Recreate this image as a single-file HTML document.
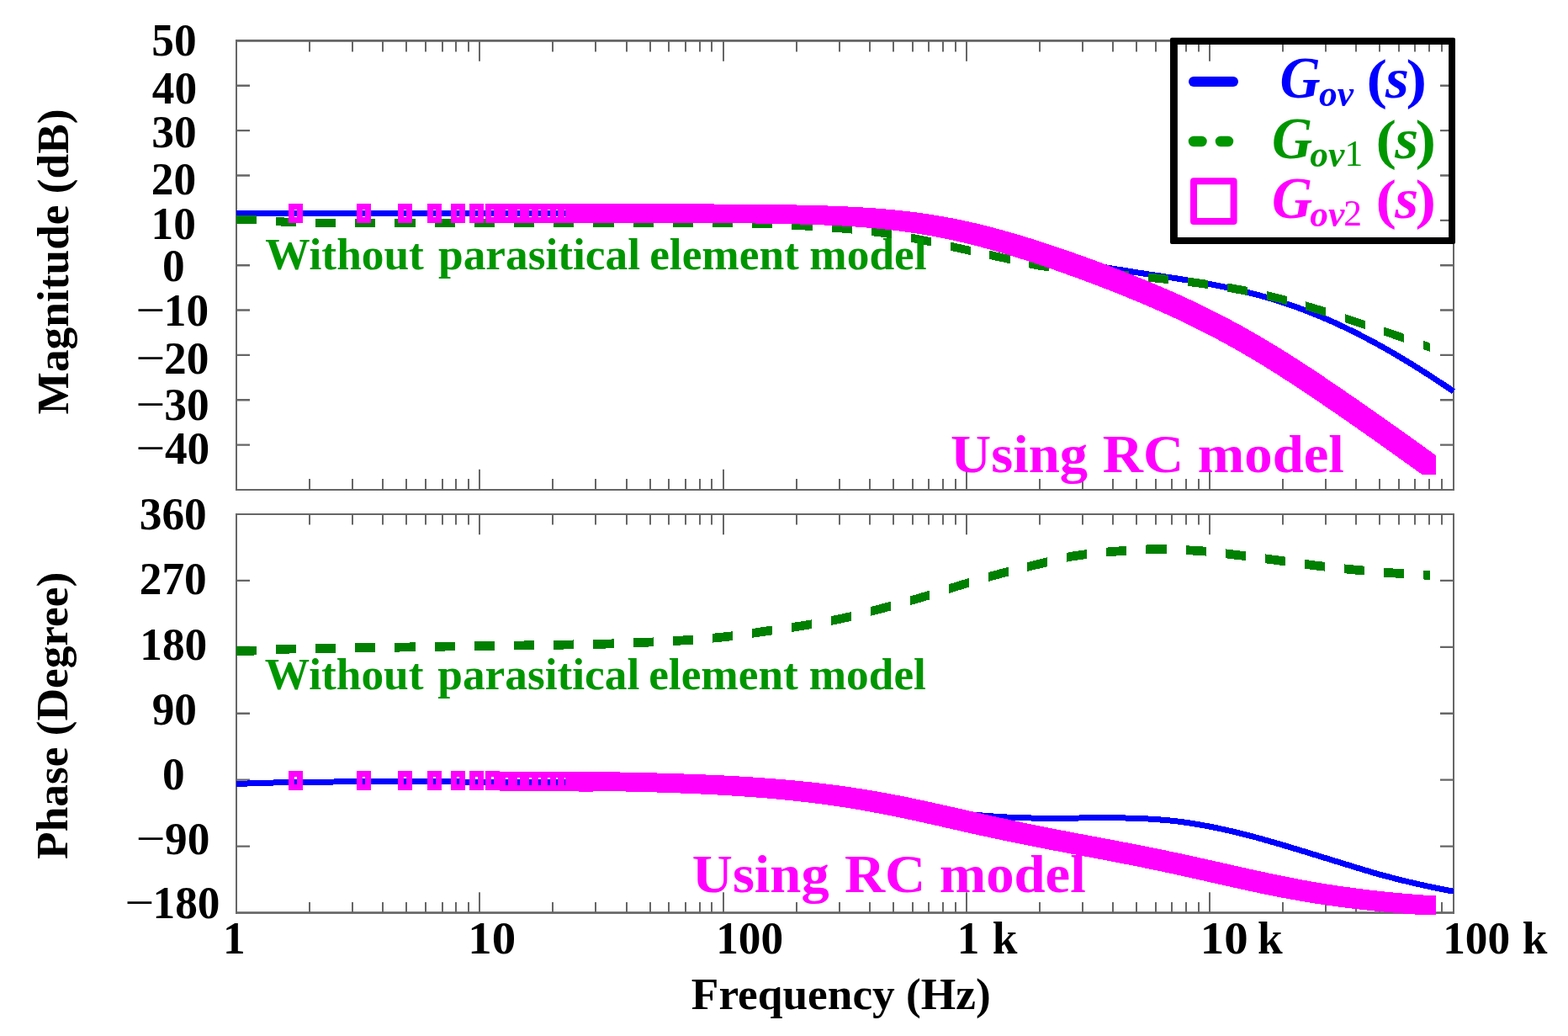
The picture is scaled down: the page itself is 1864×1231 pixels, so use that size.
<!DOCTYPE html>
<html lang="en"><head><meta charset="utf-8"><title>Bode plot</title>
<style>
html,body{margin:0;padding:0;background:#fff;}
body{width:1864px;height:1231px;overflow:hidden;}
svg{display:block;}
text{font-family:"Liberation Serif",serif;font-weight:bold;}
.r{font-weight:normal;}
.i{font-style:italic;}
</style></head><body>
<svg width="1864" height="1231" viewBox="0 0 1864 1231">
<rect width="1864" height="1231" fill="#fff"/>
<g fill="#666666">
<rect x="280" y="47" width="1449" height="2.8"/>
<rect x="280" y="581" width="1449" height="2"/>
<rect x="280" y="47" width="2" height="536"/>
<rect x="1727" y="47" width="2" height="536"/>
<path d="M367,48.4h2v13h-2zM367,582h2v-13h-2zM418,48.4h2v13h-2zM418,582h2v-13h-2zM454,48.4h2v13h-2zM454,582h2v-13h-2zM482,48.4h2v13h-2zM482,582h2v-13h-2zM505,48.4h2v13h-2zM505,582h2v-13h-2zM525,48.4h2v13h-2zM525,582h2v-13h-2zM541,48.4h2v13h-2zM541,582h2v-13h-2zM556,48.4h2v13h-2zM556,582h2v-13h-2zM569,48.4h2v24.3h-2zM569,582h2v-24.3h-2zM656,48.4h2v13h-2zM656,582h2v-13h-2zM707,48.4h2v13h-2zM707,582h2v-13h-2zM744,48.4h2v13h-2zM744,582h2v-13h-2zM772,48.4h2v13h-2zM772,582h2v-13h-2zM794,48.4h2v13h-2zM794,582h2v-13h-2zM814,48.4h2v13h-2zM814,582h2v-13h-2zM831,48.4h2v13h-2zM831,582h2v-13h-2zM845,48.4h2v13h-2zM845,582h2v-13h-2zM859,48.4h2v24.3h-2zM859,582h2v-24.3h-2zM946,48.4h2v13h-2zM946,582h2v-13h-2zM997,48.4h2v13h-2zM997,582h2v-13h-2zM1033,48.4h2v13h-2zM1033,582h2v-13h-2zM1061,48.4h2v13h-2zM1061,582h2v-13h-2zM1084,48.4h2v13h-2zM1084,582h2v-13h-2zM1103,48.4h2v13h-2zM1103,582h2v-13h-2zM1120,48.4h2v13h-2zM1120,582h2v-13h-2zM1135,48.4h2v13h-2zM1135,582h2v-13h-2zM1148,48.4h2v24.3h-2zM1148,582h2v-24.3h-2zM1235,48.4h2v13h-2zM1235,582h2v-13h-2zM1286,48.4h2v13h-2zM1286,582h2v-13h-2zM1322,48.4h2v13h-2zM1322,582h2v-13h-2zM1350,48.4h2v13h-2zM1350,582h2v-13h-2zM1373,48.4h2v13h-2zM1373,582h2v-13h-2zM1392,48.4h2v13h-2zM1392,582h2v-13h-2zM1409,48.4h2v13h-2zM1409,582h2v-13h-2zM1424,48.4h2v13h-2zM1424,582h2v-13h-2zM1437,48.4h2v24.3h-2zM1437,582h2v-24.3h-2zM1524,48.4h2v13h-2zM1524,582h2v-13h-2zM1575,48.4h2v13h-2zM1575,582h2v-13h-2zM1611,48.4h2v13h-2zM1611,582h2v-13h-2zM1639,48.4h2v13h-2zM1639,582h2v-13h-2zM1662,48.4h2v13h-2zM1662,582h2v-13h-2zM1681,48.4h2v13h-2zM1681,582h2v-13h-2zM1698,48.4h2v13h-2zM1698,582h2v-13h-2zM1713,48.4h2v13h-2zM1713,582h2v-13h-2zM281,100.56h16v2.4h-16zM1728,100.56h-16v2.4h16zM281,153.92h16v2.4h-16zM1728,153.92h-16v2.4h16zM281,207.28h16v2.4h-16zM1728,207.28h-16v2.4h16zM281,260.64h16v2.4h-16zM1728,260.64h-16v2.4h16zM281,314h16v2.4h-16zM1728,314h-16v2.4h16zM281,367.36h16v2.4h-16zM1728,367.36h-16v2.4h16zM281,420.72h16v2.4h-16zM1728,420.72h-16v2.4h16zM281,474.08h16v2.4h-16zM1728,474.08h-16v2.4h16zM281,527.44h16v2.4h-16zM1728,527.44h-16v2.4h16z"/>
</g>
<g fill="#666666">
<rect x="280" y="610" width="1449" height="2"/>
<rect x="280" y="1083.2" width="1449" height="2.7"/>
<rect x="280" y="610" width="2" height="475.9"/>
<rect x="1727" y="610" width="2" height="475.9"/>
<path d="M367,611h2v12.6h-2zM367,1084.5h2v-12.6h-2zM418,611h2v12.6h-2zM418,1084.5h2v-12.6h-2zM454,611h2v12.6h-2zM454,1084.5h2v-12.6h-2zM482,611h2v12.6h-2zM482,1084.5h2v-12.6h-2zM505,611h2v12.6h-2zM505,1084.5h2v-12.6h-2zM525,611h2v12.6h-2zM525,1084.5h2v-12.6h-2zM541,611h2v12.6h-2zM541,1084.5h2v-12.6h-2zM556,611h2v12.6h-2zM556,1084.5h2v-12.6h-2zM569,611h2v24.3h-2zM569,1084.5h2v-24.3h-2zM656,611h2v12.6h-2zM656,1084.5h2v-12.6h-2zM707,611h2v12.6h-2zM707,1084.5h2v-12.6h-2zM744,611h2v12.6h-2zM744,1084.5h2v-12.6h-2zM772,611h2v12.6h-2zM772,1084.5h2v-12.6h-2zM794,611h2v12.6h-2zM794,1084.5h2v-12.6h-2zM814,611h2v12.6h-2zM814,1084.5h2v-12.6h-2zM831,611h2v12.6h-2zM831,1084.5h2v-12.6h-2zM845,611h2v12.6h-2zM845,1084.5h2v-12.6h-2zM859,611h2v24.3h-2zM859,1084.5h2v-24.3h-2zM946,611h2v12.6h-2zM946,1084.5h2v-12.6h-2zM997,611h2v12.6h-2zM997,1084.5h2v-12.6h-2zM1033,611h2v12.6h-2zM1033,1084.5h2v-12.6h-2zM1061,611h2v12.6h-2zM1061,1084.5h2v-12.6h-2zM1084,611h2v12.6h-2zM1084,1084.5h2v-12.6h-2zM1103,611h2v12.6h-2zM1103,1084.5h2v-12.6h-2zM1120,611h2v12.6h-2zM1120,1084.5h2v-12.6h-2zM1135,611h2v12.6h-2zM1135,1084.5h2v-12.6h-2zM1148,611h2v24.3h-2zM1148,1084.5h2v-24.3h-2zM1235,611h2v12.6h-2zM1235,1084.5h2v-12.6h-2zM1286,611h2v12.6h-2zM1286,1084.5h2v-12.6h-2zM1322,611h2v12.6h-2zM1322,1084.5h2v-12.6h-2zM1350,611h2v12.6h-2zM1350,1084.5h2v-12.6h-2zM1373,611h2v12.6h-2zM1373,1084.5h2v-12.6h-2zM1392,611h2v12.6h-2zM1392,1084.5h2v-12.6h-2zM1409,611h2v12.6h-2zM1409,1084.5h2v-12.6h-2zM1424,611h2v12.6h-2zM1424,1084.5h2v-12.6h-2zM1437,611h2v24.3h-2zM1437,1084.5h2v-24.3h-2zM1524,611h2v12.6h-2zM1524,1084.5h2v-12.6h-2zM1575,611h2v12.6h-2zM1575,1084.5h2v-12.6h-2zM1611,611h2v12.6h-2zM1611,1084.5h2v-12.6h-2zM1639,611h2v12.6h-2zM1639,1084.5h2v-12.6h-2zM1662,611h2v12.6h-2zM1662,1084.5h2v-12.6h-2zM1681,611h2v12.6h-2zM1681,1084.5h2v-12.6h-2zM1698,611h2v12.6h-2zM1698,1084.5h2v-12.6h-2zM1713,611h2v12.6h-2zM1713,1084.5h2v-12.6h-2zM281,688.77h16v2.3h-16zM1728,688.77h-16v2.3h16zM281,767.68h16v2.3h-16zM1728,767.68h-16v2.3h16zM281,846.6h16v2.3h-16zM1728,846.6h-16v2.3h16zM281,925.52h16v2.3h-16zM1728,925.52h-16v2.3h16zM281,1004.43h16v2.3h-16zM1728,1004.43h-16v2.3h16z"/>
</g>
<polyline points="281,253.42 283,253.42 285,253.42 287,253.42 289,253.42 291,253.42 293,253.42 295,253.42 297,253.42 299,253.42 301,253.42 303,253.42 305,253.42 307,253.42 309,253.42 311,253.42 313,253.42 315,253.42 317,253.42 319,253.42 321,253.42 323,253.42 325,253.42 327,253.42 329,253.42 331,253.42 333,253.42 335,253.42 337,253.42 339,253.42 341,253.42 343,253.42 345,253.42 347,253.42 349,253.42 351,253.42 353,253.42 355,253.42 357,253.42 359,253.42 361,253.42 363,253.42 365,253.42 367,253.42 369,253.42 371,253.42 373,253.42 375,253.42 377,253.42 379,253.42 381,253.42 383,253.42 385,253.42 387,253.42 389,253.42 391,253.42 393,253.42 395,253.42 397,253.42 399,253.42 401,253.42 403,253.42 405,253.42 407,253.42 409,253.42 411,253.42 413,253.42 415,253.42 417,253.42 419,253.42 421,253.42 423,253.42 425,253.42 427,253.42 429,253.42 431,253.42 433,253.42 435,253.42 437,253.42 439,253.42 441,253.42 443,253.42 445,253.42 447,253.42 449,253.42 451,253.42 453,253.42 455,253.42 457,253.42 459,253.42 461,253.42 463,253.42 465,253.42 467,253.42 469,253.42 471,253.42 473,253.42 475,253.42 477,253.42 479,253.42 481,253.42 483,253.42 485,253.42 487,253.42 489,253.42 491,253.42 493,253.42 495,253.42 497,253.42 499,253.42 501,253.42 503,253.42 505,253.42 507,253.42 509,253.42 511,253.42 513,253.42 515,253.42 517,253.42 519,253.42 521,253.42 523,253.42 525,253.42 527,253.42 529,253.42 531,253.42 533,253.42 535,253.42 537,253.42 539,253.42 541,253.42 543,253.42 545,253.42 547,253.42 549,253.43 551,253.43 553,253.43 555,253.43 557,253.43 559,253.43 561,253.43 563,253.43 565,253.43 567,253.43 569,253.43 571,253.43 573,253.43 575,253.43 577,253.43 579,253.43 581,253.43 583,253.43 585,253.43 587,253.43 589,253.43 591,253.43 593,253.43 595,253.43 597,253.43 599,253.43 601,253.43 603,253.43 605,253.43 607,253.43 609,253.43 611,253.43 613,253.43 615,253.43 617,253.43 619,253.43 621,253.43 623,253.43 625,253.43 627,253.43 629,253.44 631,253.44 633,253.44 635,253.44 637,253.44 639,253.44 641,253.44 643,253.44 645,253.44 647,253.44 649,253.44 651,253.44 653,253.44 655,253.44 657,253.44 659,253.44 661,253.45 663,253.45 665,253.45 667,253.45 669,253.45 671,253.45 673,253.45 675,253.45 677,253.45 679,253.45 681,253.45 683,253.46 685,253.46 687,253.46 689,253.46 691,253.46 693,253.46 695,253.46 697,253.46 699,253.46 701,253.47 703,253.47 705,253.47 707,253.47 709,253.47 711,253.47 713,253.48 715,253.48 717,253.48 719,253.48 721,253.48 723,253.49 725,253.49 727,253.49 729,253.49 731,253.49 733,253.5 735,253.5 737,253.5 739,253.5 741,253.51 743,253.51 745,253.51 747,253.52 749,253.52 751,253.52 753,253.52 755,253.53 757,253.53 759,253.54 761,253.54 763,253.54 765,253.55 767,253.55 769,253.55 771,253.56 773,253.56 775,253.57 777,253.57 779,253.58 781,253.58 783,253.59 785,253.59 787,253.6 789,253.6 791,253.61 793,253.62 795,253.62 797,253.63 799,253.64 801,253.64 803,253.65 805,253.66 807,253.67 809,253.67 811,253.68 813,253.69 815,253.7 817,253.71 819,253.72 821,253.73 823,253.74 825,253.75 827,253.76 829,253.77 831,253.78 833,253.79 835,253.8 837,253.81 839,253.83 841,253.84 843,253.85 845,253.87 847,253.88 849,253.89 851,253.91 853,253.93 855,253.94 857,253.96 859,253.98 861,253.99 863,254.01 865,254.03 867,254.05 869,254.07 871,254.09 873,254.11 875,254.13 877,254.16 879,254.18 881,254.2 883,254.23 885,254.25 887,254.28 889,254.31 891,254.34 893,254.36 895,254.39 897,254.43 899,254.46 901,254.49 903,254.52 905,254.56 907,254.59 909,254.63 911,254.67 913,254.71 915,254.75 917,254.79 919,254.83 921,254.88 923,254.92 925,254.97 927,255.02 929,255.07 931,255.12 933,255.17 935,255.23 937,255.28 939,255.34 941,255.4 943,255.46 945,255.52 947,255.59 949,255.65 951,255.72 953,255.79 955,255.86 957,255.94 959,256.02 961,256.09 963,256.18 965,256.26 967,256.34 969,256.43 971,256.52 973,256.62 975,256.71 977,256.81 979,256.91 981,257.02 983,257.12 985,257.23 987,257.35 989,257.46 991,257.58 993,257.7 995,257.83 997,257.95 999,258.09 1001,258.22 1003,258.36 1005,258.5 1007,258.65 1009,258.8 1011,258.95 1013,259.11 1015,259.27 1017,259.43 1019,259.6 1021,259.78 1023,259.95 1025,260.13 1027,260.32 1029,260.51 1031,260.7 1033,260.9 1035,261.1 1037,261.31 1039,261.52 1041,261.74 1043,261.96 1045,262.19 1047,262.42 1049,262.65 1051,262.89 1053,263.14 1055,263.39 1057,263.65 1059,263.91 1061,264.17 1063,264.44 1065,264.72 1067,265 1069,265.28 1071,265.58 1073,265.87 1075,266.17 1077,266.48 1079,266.79 1081,267.11 1083,267.43 1085,267.76 1087,268.09 1089,268.43 1091,268.77 1093,269.12 1095,269.47 1097,269.83 1099,270.19 1101,270.56 1103,270.93 1105,271.31 1107,271.69 1109,272.08 1111,272.47 1113,272.87 1115,273.27 1117,273.68 1119,274.09 1121,274.51 1123,274.93 1125,275.35 1127,275.78 1129,276.21 1131,276.65 1133,277.09 1135,277.53 1137,277.98 1139,278.43 1141,278.89 1143,279.34 1145,279.81 1147,280.27 1149,280.74 1151,281.21 1153,281.69 1155,282.16 1157,282.64 1159,283.13 1161,283.61 1163,284.1 1165,284.59 1167,285.08 1169,285.58 1171,286.07 1173,286.57 1175,287.07 1177,287.57 1179,288.07 1181,288.57 1183,289.08 1185,289.58 1187,290.09 1189,290.6 1191,291.11 1193,291.61 1195,292.12 1197,292.63 1199,293.14 1201,293.64 1203,294.12 1205,294.61 1207,295.09 1209,295.58 1211,296.06 1213,296.55 1215,297.03 1217,297.51 1219,297.99 1221,298.47 1223,298.94 1225,299.42 1227,299.89 1229,300.37 1231,300.84 1233,301.31 1235,301.77 1237,302.24 1239,302.7 1241,303.16 1243,303.62 1245,304.07 1247,304.52 1249,304.97 1251,305.42 1253,305.86 1255,306.31 1257,306.74 1259,307.18 1261,307.61 1263,308.04 1265,308.46 1267,308.88 1269,309.3 1271,309.72 1273,310.13 1275,310.53 1277,310.94 1279,311.34 1281,311.73 1283,312.13 1285,312.52 1287,312.9 1289,313.28 1291,313.66 1293,314.03 1295,314.4 1297,314.77 1299,315.13 1301,315.49 1303,315.85 1305,316.2 1307,316.55 1309,316.89 1311,317.23 1313,317.57 1315,317.9 1317,318.23 1319,318.56 1321,318.88 1323,319.2 1325,319.51 1327,319.83 1329,320.14 1331,320.46 1333,320.79 1335,321.13 1337,321.46 1339,321.78 1341,322.11 1343,322.43 1345,322.75 1347,323.07 1349,323.38 1351,323.7 1353,324.01 1355,324.32 1357,324.63 1359,324.93 1361,325.24 1363,325.54 1365,325.84 1367,326.15 1369,326.45 1371,326.75 1373,327.04 1375,327.34 1377,327.64 1379,327.94 1381,328.24 1383,328.54 1385,328.83 1387,329.13 1389,329.43 1391,329.73 1393,330.03 1395,330.34 1397,330.64 1399,330.94 1401,331.25 1403,331.57 1405,331.89 1407,332.22 1409,332.54 1411,332.87 1413,333.2 1415,333.53 1417,333.86 1419,334.2 1421,334.54 1423,334.88 1425,335.23 1427,335.58 1429,335.94 1431,336.29 1433,336.65 1435,337.02 1437,337.39 1439,337.76 1441,338.14 1443,338.52 1445,338.91 1447,339.3 1449,339.7 1451,340.1 1453,340.51 1455,340.92 1457,341.34 1459,341.76 1461,342.19 1463,342.62 1465,343.06 1467,343.51 1469,343.96 1471,344.42 1473,344.88 1475,345.35 1477,345.83 1479,346.32 1481,346.81 1483,347.3 1485,347.81 1487,348.32 1489,348.83 1491,349.36 1493,349.89 1495,350.43 1497,350.97 1499,351.52 1501,352.08 1503,352.65 1505,353.22 1507,353.8 1509,354.39 1511,354.99 1513,355.59 1515,356.21 1517,356.82 1519,357.45 1521,358.09 1523,358.74 1525,359.39 1527,360.06 1529,360.73 1531,361.41 1533,362.09 1535,362.79 1537,363.49 1539,364.2 1541,364.92 1543,365.65 1545,366.38 1547,367.12 1549,367.87 1551,368.63 1553,369.4 1555,370.17 1557,370.95 1559,371.74 1561,372.54 1563,373.35 1565,374.16 1567,374.99 1569,375.82 1571,376.66 1573,377.5 1575,378.36 1577,379.22 1579,380.09 1581,380.97 1583,381.86 1585,382.76 1587,383.66 1589,384.57 1591,385.49 1593,386.42 1595,387.36 1597,388.3 1599,389.25 1601,390.21 1603,391.18 1605,392.16 1607,393.14 1609,394.13 1611,395.13 1613,396.14 1615,397.16 1617,398.18 1619,399.21 1621,400.25 1623,401.28 1625,402.33 1627,403.38 1629,404.44 1631,405.51 1633,406.59 1635,407.67 1637,408.76 1639,409.86 1641,410.96 1643,412.08 1645,413.2 1647,414.32 1649,415.46 1651,416.6 1653,417.75 1655,418.9 1657,420.06 1659,421.23 1661,422.41 1663,423.59 1665,424.78 1667,425.97 1669,427.17 1671,428.38 1673,429.59 1675,430.81 1677,432.04 1679,433.27 1681,434.51 1683,435.75 1685,437 1687,438.26 1689,439.52 1691,440.78 1693,442.05 1695,443.33 1697,444.61 1699,445.9 1701,447.19 1703,448.49 1705,449.79 1707,451.1 1709,452.41 1711,453.72 1713,455.04 1715,456.37 1717,457.69 1719,459.03 1721,460.36 1723,461.7 1725,463.05 1727,464.4 1728,465.07" fill="none" stroke="#0000ff" stroke-width="7" shape-rendering="crispEdges"/>
<path d="M281,255.8 L284.98,255.81 L288.97,255.85 L292.95,255.9 L296.93,255.98 L300.91,256.13 L304.9,256.33 L304.9,266.53 L300.91,266.33 L296.93,266.18 L292.95,266.1 L288.97,266.05 L284.98,266.01 L281,266Z M327.88,257.93 L331.91,258.2 L335.94,258.42 L339.98,258.6 L344.01,258.75 L348.04,258.91 L352.07,259.06 L352.07,269.26 L348.04,269.11 L344.01,268.95 L339.98,268.8 L335.94,268.62 L331.91,268.4 L327.88,268.13Z M375.07,259.78 L379.1,259.84 L383.13,259.89 L387.17,259.9 L391.2,259.9 L395.23,259.9 L399.27,259.9 L399.27,270.1 L395.23,270.1 L391.2,270.1 L387.17,270.1 L383.13,270.09 L379.1,270.04 L375.07,269.98Z M422.27,259.9 L426.3,259.9 L430.33,259.9 L434.37,259.9 L438.4,259.9 L442.43,259.9 L446.47,259.9 L446.47,270.1 L442.43,270.1 L438.4,270.1 L434.37,270.1 L430.33,270.1 L426.3,270.1 L422.27,270.1Z M469.47,259.9 L473.5,259.9 L477.53,259.9 L481.57,259.9 L485.6,259.9 L489.63,259.9 L493.67,259.9 L493.67,270.1 L489.63,270.1 L485.6,270.1 L481.57,270.1 L477.53,270.1 L473.5,270.1 L469.47,270.1Z M516.67,259.9 L520.7,259.9 L524.73,259.9 L528.77,259.9 L532.8,259.9 L536.83,259.9 L540.87,259.9 L540.87,270.1 L536.83,270.1 L532.8,270.1 L528.77,270.1 L524.73,270.1 L520.7,270.1 L516.67,270.1Z M563.87,259.9 L567.9,259.9 L571.93,259.9 L575.97,259.9 L580,259.9 L584.03,259.9 L588.07,259.9 L588.07,270.1 L584.03,270.1 L580,270.1 L575.97,270.1 L571.93,270.1 L567.9,270.1 L563.87,270.1Z M611.07,259.9 L615.1,259.9 L619.13,259.9 L623.17,259.9 L627.2,259.9 L631.23,259.9 L635.27,259.9 L635.27,270.1 L631.23,270.1 L627.2,270.1 L623.17,270.1 L619.13,270.1 L615.1,270.1 L611.07,270.1Z M658.27,259.9 L662.3,259.9 L666.33,259.9 L670.37,259.9 L674.4,259.9 L678.43,259.9 L682.47,259.9 L682.47,270.1 L678.43,270.1 L674.4,270.1 L670.37,270.1 L666.33,270.1 L662.3,270.1 L658.27,270.1Z M705.47,259.9 L709.5,259.9 L713.53,259.9 L717.57,259.9 L721.6,259.9 L725.63,259.9 L729.67,259.9 L729.67,270.1 L725.63,270.1 L721.6,270.1 L717.57,270.1 L713.53,270.1 L709.5,270.1 L705.47,270.1Z M752.67,259.9 L756.7,259.9 L760.73,259.9 L764.77,259.9 L768.8,259.9 L772.83,259.91 L776.87,259.91 L776.87,270.11 L772.83,270.11 L768.8,270.1 L764.77,270.1 L760.73,270.1 L756.7,270.1 L752.67,270.1Z M799.87,259.96 L803.9,259.97 L807.93,259.98 L811.97,259.99 L816,260.01 L820.03,260.02 L824.07,260.04 L824.07,270.24 L820.03,270.22 L816,270.21 L811.97,270.19 L807.93,270.18 L803.9,270.17 L799.87,270.16Z M847.07,260.14 L851.1,260.16 L855.13,260.18 L859.17,260.2 L863.2,260.22 L867.23,260.24 L871.27,260.27 L871.27,270.47 L867.23,270.44 L863.2,270.42 L859.17,270.4 L855.13,270.38 L851.1,270.36 L847.07,270.34Z M894.27,260.51 L898.3,260.57 L902.33,260.64 L906.37,260.71 L910.4,260.8 L914.43,260.93 L918.46,261.1 L918.46,271.3 L914.43,271.13 L910.4,271 L906.37,270.91 L902.33,270.84 L898.3,270.77 L894.27,270.71Z M941.45,262.4 L945.48,262.65 L949.52,262.89 L953.55,263.13 L957.58,263.37 L961.61,263.6 L965.64,263.84 L965.64,274.04 L961.61,273.8 L957.58,273.57 L953.55,273.33 L949.52,273.09 L945.48,272.85 L941.45,272.6Z M988.62,265.34 L992.65,265.64 L996.68,265.95 L1000.71,266.28 L1004.74,266.62 L1008.77,266.98 L1012.8,267.37 L1012.8,277.57 L1008.77,277.18 L1004.74,276.82 L1000.71,276.48 L996.68,276.15 L992.65,275.84 L988.62,275.54Z M1035.75,269.91 L1039.78,270.42 L1043.8,270.94 L1047.82,271.48 L1051.84,272.04 L1055.86,272.64 L1059.88,273.28 L1059.88,283.48 L1055.86,282.84 L1051.84,282.24 L1047.82,281.68 L1043.8,281.14 L1039.78,280.62 L1035.75,280.11Z M1082.77,277.41 L1086.77,278.18 L1090.78,278.97 L1094.79,279.76 L1098.8,280.57 L1102.81,281.41 L1106.81,282.27 L1106.81,292.47 L1102.81,291.61 L1098.8,290.77 L1094.79,289.96 L1090.78,289.17 L1086.77,288.38 L1082.77,287.61Z M1129.63,287.49 L1133.63,288.42 L1137.64,289.33 L1141.64,290.22 L1145.64,291.1 L1149.64,291.98 L1153.65,292.85 L1153.65,303.05 L1149.64,302.18 L1145.64,301.3 L1141.64,300.42 L1137.64,299.53 L1133.63,298.62 L1129.63,297.69Z M1176.48,297.81 L1180.48,298.68 L1184.49,299.54 L1188.49,300.41 L1192.49,301.29 L1196.5,302.2 L1200.5,303.13 L1200.5,313.33 L1196.5,312.4 L1192.49,311.49 L1188.49,310.61 L1184.49,309.74 L1180.48,308.88 L1176.48,308.01Z M1223.32,308.26 L1227.34,309.06 L1231.36,309.79 L1235.37,310.46 L1239.39,311.08 L1243.4,311.68 L1247.42,312.25 L1247.42,322.45 L1243.4,321.88 L1239.39,321.28 L1235.37,320.66 L1231.36,319.99 L1227.34,319.26 L1223.32,318.46Z M1270.36,315.15 L1274.39,315.61 L1278.41,316.06 L1282.44,316.51 L1286.47,316.95 L1290.49,317.38 L1294.52,317.81 L1294.52,328.01 L1290.49,327.58 L1286.47,327.15 L1282.44,326.71 L1278.41,326.26 L1274.39,325.81 L1270.36,325.35Z M1317.48,320.16 L1321.51,320.53 L1325.54,320.9 L1329.57,321.27 L1333.59,321.63 L1337.62,321.99 L1341.65,322.35 L1341.65,332.55 L1337.62,332.19 L1333.59,331.83 L1329.57,331.47 L1325.54,331.1 L1321.51,330.73 L1317.48,330.36Z M1364.62,324.45 L1368.65,324.85 L1372.67,325.25 L1376.7,325.67 L1380.73,326.1 L1384.75,326.53 L1388.78,326.97 L1388.78,337.17 L1384.75,336.73 L1380.73,336.3 L1376.7,335.87 L1372.67,335.45 L1368.65,335.05 L1364.62,334.65Z M1411.73,329.62 L1415.75,330.12 L1419.78,330.64 L1423.8,331.17 L1427.82,331.72 L1431.84,332.28 L1435.87,332.86 L1435.87,343.06 L1431.84,342.48 L1427.82,341.92 L1423.8,341.37 L1419.78,340.84 L1415.75,340.32 L1411.73,339.82Z M1458.78,336.45 L1462.79,337.14 L1466.8,337.84 L1470.82,338.57 L1474.83,339.32 L1478.84,340.09 L1482.85,340.9 L1482.85,351.1 L1478.84,350.29 L1474.83,349.52 L1470.82,348.77 L1466.8,348.04 L1462.79,347.34 L1458.78,346.65Z M1505.68,345.93 L1509.68,346.88 L1513.67,347.84 L1517.67,348.82 L1521.66,349.82 L1525.66,350.84 L1529.65,351.9 L1529.65,362.1 L1525.66,361.04 L1521.66,360.02 L1517.67,359.02 L1513.67,358.04 L1509.68,357.08 L1505.68,356.13Z M1552.37,358.33 L1556.35,359.51 L1560.33,360.7 L1564.3,361.89 L1568.28,363.1 L1572.26,364.33 L1576.23,365.59 L1576.23,375.79 L1572.26,374.53 L1568.28,373.3 L1564.3,372.09 L1560.33,370.9 L1556.35,369.71 L1552.37,368.53Z M1598.86,373 L1602.83,374.32 L1606.8,375.64 L1610.76,376.95 L1614.73,378.26 L1618.7,379.58 L1622.66,380.9 L1622.66,391.1 L1618.7,389.78 L1614.73,388.46 L1610.76,387.15 L1606.8,385.84 L1602.83,384.52 L1598.86,383.2Z M1645.27,388.49 L1649.23,389.84 L1653.19,391.19 L1657.16,392.55 L1661.12,393.92 L1665.08,395.3 L1669.04,396.69 L1669.04,406.89 L1665.08,405.5 L1661.12,404.12 L1657.16,402.75 L1653.19,401.39 L1649.23,400.04 L1645.27,398.69Z M1691.61,404.69 L1693,405.19 L1694.4,405.69 L1695.8,406.19 L1697.2,406.69 L1698.6,407.19 L1700,407.7 L1700,417.9 L1698.6,417.39 L1697.2,416.89 L1695.8,416.39 L1694.4,415.89 L1693,415.39 L1691.61,414.89Z" fill="#008000" shape-rendering="crispEdges"/>
<g fill="#ff00ff" fill-rule="evenodd" shape-rendering="crispEdges">
<path d="M343,242h17v23h-17zM350,249h3v9h-3z"/>
<path d="M424,242h17v23h-17zM431,249h3v9h-3z"/>
<path d="M473,242h17v23h-17zM480,249h3v9h-3z"/>
<path d="M508,242h17v23h-17zM515,249h3v9h-3z"/>
<path d="M536,242h17v23h-17zM543,249h3v9h-3z"/>
<path d="M558,242h17v23h-17zM565,249h3v9h-3z"/>
<path d="M577,242h17v23h-17zM584,249h3v9h-3z"/>
<path d="M594,242h17v23h-17zM601,249h3v9h-3z"/>
<path d="M608,242h17v23h-17zM615,249h3v9h-3z"/>
<path d="M622,242h17v23h-17zM629,249h3v9h-3z"/>
<path d="M633,242h17v23h-17zM640,249h3v9h-3z"/>
<path d="M644,242h17v23h-17zM651,249h3v9h-3z"/>
<path d="M654,242h17v23h-17zM661,249h3v9h-3z"/>
<path d="M663,242h17v23h-17zM670,249h3v9h-3z"/>
<path d="M672,242h17v23h-17zM679,249h3v9h-3z"/>
<path d="M680,242h17v23h-17zM687,249h3v9h-3z"/>
<path d="M688,242h17v23h-17zM695,249h3v9h-3z"/>
</g>
<polygon points="681.5,242.25 682.5,242.25 683.5,242.25 684.5,242.25 685.5,242.25 686.5,242.25 687.5,242.25 688.5,242.25 689.5,242.25 690.5,242.25 691.5,242.25 692.5,242.25 693.5,242.25 694.5,242.25 695.5,242.25 696.5,242.25 697.5,242.25 698.5,242.25 699.5,242.25 700.5,242.25 701.5,242.25 702.5,242.25 703.5,242.25 704.5,242.25 705.5,242.25 706.5,242.25 707.5,242.25 708.5,242.25 709.5,242.25 710.5,242.25 711.5,242.25 712.5,242.25 713.5,242.25 714.5,242.25 715.5,242.25 716.5,242.25 717.5,242.26 718.5,242.26 719.5,242.26 720.5,242.26 721.5,242.26 722.5,242.26 723.5,242.26 724.5,242.26 725.5,242.26 726.5,242.26 727.5,242.26 728.5,242.26 729.5,242.26 730.5,242.26 731.5,242.26 732.5,242.26 733.5,242.27 734.5,242.27 735.5,242.27 736.5,242.27 737.5,242.27 738.5,242.27 739.5,242.27 740.5,242.27 741.5,242.27 742.5,242.27 743.5,242.27 744.5,242.27 745.5,242.27 746.5,242.28 747.5,242.28 748.5,242.28 749.5,242.28 750.5,242.28 751.5,242.28 752.5,242.28 753.5,242.28 754.5,242.28 755.5,242.28 756.5,242.28 757.5,242.29 758.5,242.29 759.5,242.29 760.5,242.29 761.5,242.29 762.5,242.29 763.5,242.29 764.5,242.29 765.5,242.29 766.5,242.3 767.5,242.3 768.5,242.3 769.5,242.3 770.5,242.3 771.5,242.3 772.5,242.3 773.5,242.3 774.5,242.31 775.5,242.31 776.5,242.31 777.5,242.31 778.5,242.31 779.5,242.31 780.5,242.31 781.5,242.32 782.5,242.32 783.5,242.32 784.5,242.32 785.5,242.32 786.5,242.32 787.5,242.33 788.5,242.33 789.5,242.33 790.5,242.33 791.5,242.33 792.5,242.33 793.5,242.34 794.5,242.34 795.5,242.34 796.5,242.34 797.5,242.34 798.5,242.35 799.5,242.35 800.5,242.35 801.5,242.35 802.5,242.35 803.5,242.36 804.5,242.36 805.5,242.36 806.5,242.36 807.5,242.37 808.5,242.37 809.5,242.37 810.5,242.37 811.5,242.37 812.5,242.38 813.5,242.38 814.5,242.38 815.5,242.38 816.5,242.39 817.5,242.39 818.5,242.39 819.5,242.4 820.5,242.4 821.5,242.4 822.5,242.4 823.5,242.41 824.5,242.41 825.5,242.41 826.5,242.42 827.5,242.42 828.5,242.42 829.5,242.43 830.5,242.43 831.5,242.43 832.5,242.44 833.5,242.44 834.5,242.44 835.5,242.45 836.5,242.45 837.5,242.45 838.5,242.46 839.5,242.46 840.5,242.46 841.5,242.47 842.5,242.47 843.5,242.48 844.5,242.48 845.5,242.48 846.5,242.49 847.5,242.49 848.5,242.5 849.5,242.5 850.5,242.51 851.5,242.51 852.5,242.52 853.5,242.52 854.5,242.52 855.5,242.53 856.5,242.53 857.5,242.54 858.5,242.54 859.5,242.55 860.5,242.55 861.5,242.56 862.5,242.57 863.5,242.57 864.5,242.58 865.5,242.58 866.5,242.59 867.5,242.59 868.5,242.6 869.5,242.61 870.5,242.61 871.5,242.62 872.5,242.62 873.5,242.63 874.5,242.64 875.5,242.64 876.5,242.65 877.5,242.66 878.5,242.66 879.5,242.67 880.5,242.68 881.5,242.69 882.5,242.69 883.5,242.7 884.5,242.71 885.5,242.72 886.5,242.72 887.5,242.73 888.5,242.74 889.5,242.75 890.5,242.76 891.5,242.77 892.5,242.77 893.5,242.78 894.5,242.79 895.5,242.8 896.5,242.81 897.5,242.82 898.5,242.83 899.5,242.84 900.5,242.85 901.5,242.86 902.5,242.87 903.5,242.88 904.5,242.89 905.5,242.9 906.5,242.91 907.5,242.92 908.5,242.93 909.5,242.94 910.5,242.95 911.5,242.97 912.5,242.98 913.5,242.99 914.5,243 915.5,243.01 916.5,243.03 917.5,243.04 918.5,243.05 919.5,243.07 920.5,243.08 921.5,243.09 922.5,243.11 923.5,243.12 924.5,243.13 925.5,243.15 926.5,243.16 927.5,243.18 928.5,243.19 929.5,243.21 930.5,243.22 931.5,243.24 932.5,243.26 933.5,243.27 934.5,243.29 935.5,243.3 936.5,243.32 937.5,243.34 938.5,243.36 939.5,243.37 940.5,243.39 941.5,243.41 942.5,243.43 943.5,243.45 944.5,243.47 945.5,243.49 946.5,243.51 947.5,243.53 948.5,243.55 949.5,243.57 950.5,243.59 951.5,243.61 952.5,243.63 953.5,243.65 954.5,243.68 955.5,243.7 956.5,243.72 957.5,243.74 958.5,243.77 959.5,243.79 960.5,243.82 961.5,243.84 962.5,243.87 963.5,243.89 964.5,243.92 965.5,243.94 966.5,243.97 967.5,244 968.5,244.02 969.5,244.05 970.5,244.08 971.5,244.11 972.5,244.14 973.5,244.17 974.5,244.2 975.5,244.23 976.5,244.26 977.5,244.29 978.5,244.32 979.5,244.35 980.5,244.39 981.5,244.42 982.5,244.45 983.5,244.49 984.5,244.52 985.5,244.56 986.5,244.59 987.5,244.63 988.5,244.67 989.5,244.7 990.5,244.74 991.5,244.78 992.5,244.82 993.5,244.86 994.5,244.9 995.5,244.94 996.5,244.98 997.5,245.02 998.5,245.06 999.5,245.11 1000.5,245.15 1001.5,245.19 1002.5,245.24 1003.5,245.28 1004.5,245.33 1005.5,245.38 1006.5,245.42 1007.5,245.47 1008.5,245.52 1009.5,245.57 1010.5,245.62 1011.5,245.67 1012.5,245.72 1013.5,245.77 1014.5,245.83 1015.5,245.88 1016.5,245.93 1017.5,245.99 1018.5,246.05 1019.5,246.1 1020.5,246.16 1021.5,246.22 1022.5,246.28 1023.5,246.34 1024.5,246.4 1025.5,246.46 1026.5,246.52 1027.5,246.58 1028.5,246.65 1029.5,246.71 1030.5,246.78 1031.5,246.84 1032.5,246.91 1033.5,246.98 1034.5,247.05 1035.5,247.12 1036.5,247.19 1037.5,247.26 1038.5,247.33 1039.5,247.4 1040.5,247.48 1041.5,247.55 1042.5,247.63 1043.5,247.71 1044.5,247.79 1045.5,247.87 1046.5,247.95 1047.5,248.03 1048.5,248.11 1049.5,248.19 1050.5,248.28 1051.5,248.36 1052.5,248.45 1053.5,248.54 1054.5,248.63 1055.5,248.72 1056.5,248.81 1057.5,248.9 1058.5,248.99 1059.5,249.09 1060.5,249.18 1061.5,249.28 1062.5,249.37 1063.5,249.47 1064.5,249.57 1065.5,249.67 1066.5,249.78 1067.5,249.88 1068.5,249.98 1069.5,250.09 1070.5,250.2 1071.5,250.3 1072.5,250.41 1073.5,250.52 1074.5,250.64 1075.5,250.75 1076.5,250.86 1077.5,250.98 1078.5,251.1 1079.5,251.21 1080.5,251.33 1081.5,251.46 1082.5,251.58 1083.5,251.7 1084.5,251.83 1085.5,251.95 1086.5,252.08 1087.5,252.21 1088.5,252.34 1089.5,252.47 1090.5,252.6 1091.5,252.74 1092.5,252.87 1093.5,253.01 1094.5,253.15 1095.5,253.29 1096.5,253.43 1097.5,253.57 1098.5,253.71 1099.5,253.86 1100.5,254.01 1101.5,254.15 1102.5,254.3 1103.5,254.45 1104.5,254.61 1105.5,254.76 1106.5,254.92 1107.5,255.07 1108.5,255.23 1109.5,255.39 1110.5,255.55 1111.5,255.71 1112.5,255.88 1113.5,256.04 1114.5,256.21 1115.5,256.38 1116.5,256.55 1117.5,256.72 1118.5,256.89 1119.5,257.07 1120.5,257.24 1121.5,257.42 1122.5,257.6 1123.5,257.78 1124.5,257.96 1125.5,258.14 1126.5,258.33 1127.5,258.51 1128.5,258.7 1129.5,258.89 1130.5,259.08 1131.5,259.27 1132.5,259.47 1133.5,259.66 1134.5,259.86 1135.5,260.06 1136.5,260.26 1137.5,260.46 1138.5,260.66 1139.5,260.86 1140.5,261.07 1141.5,261.28 1142.5,261.49 1143.5,261.7 1144.5,261.91 1145.5,262.12 1146.5,262.33 1147.5,262.55 1148.5,262.77 1149.5,262.99 1150.5,263.21 1151.5,263.43 1152.5,263.65 1153.5,263.87 1154.5,264.1 1155.5,264.33 1156.5,264.56 1157.5,264.79 1158.5,265.02 1159.5,265.25 1160.5,265.49 1161.5,265.72 1162.5,265.96 1163.5,266.2 1164.5,266.44 1165.5,266.68 1166.5,266.92 1167.5,267.17 1168.5,267.41 1169.5,267.66 1170.5,267.91 1171.5,268.16 1172.5,268.41 1173.5,268.66 1174.5,268.91 1175.5,269.17 1176.5,269.43 1177.5,269.68 1178.5,269.94 1179.5,270.2 1180.5,270.46 1181.5,270.73 1182.5,270.99 1183.5,271.26 1184.5,271.52 1185.5,271.79 1186.5,272.06 1187.5,272.33 1188.5,272.6 1189.5,272.87 1190.5,273.15 1191.5,273.42 1192.5,273.7 1193.5,273.98 1194.5,274.25 1195.5,274.53 1196.5,274.82 1197.5,275.1 1198.5,275.38 1199.5,275.67 1200.5,275.95 1201.5,276.24 1202.5,276.53 1203.5,276.81 1204.5,277.11 1205.5,277.4 1206.5,277.69 1207.5,277.98 1208.5,278.28 1209.5,278.57 1210.5,278.87 1211.5,279.17 1212.5,279.47 1213.5,279.76 1214.5,280.07 1215.5,280.37 1216.5,280.67 1217.5,280.97 1218.5,281.28 1219.5,281.58 1220.5,281.89 1221.5,282.2 1222.5,282.51 1223.5,282.82 1224.5,283.13 1225.5,283.44 1226.5,283.75 1227.5,284.07 1228.5,284.38 1229.5,284.7 1230.5,285.01 1231.5,285.33 1232.5,285.65 1233.5,285.97 1234.5,286.29 1235.5,286.61 1236.5,286.93 1237.5,287.25 1238.5,287.57 1239.5,287.9 1240.5,288.22 1241.5,288.55 1242.5,288.88 1243.5,289.2 1244.5,289.53 1245.5,289.86 1246.5,290.19 1247.5,290.52 1248.5,290.85 1249.5,291.19 1250.5,291.52 1251.5,291.85 1252.5,292.19 1253.5,292.52 1254.5,292.86 1255.5,293.2 1256.5,293.53 1257.5,293.87 1258.5,294.21 1259.5,294.55 1260.5,294.89 1261.5,295.23 1262.5,295.58 1263.5,295.92 1264.5,296.26 1265.5,296.61 1266.5,296.95 1267.5,297.3 1268.5,297.65 1269.5,297.99 1270.5,298.34 1271.5,298.69 1272.5,299.04 1273.5,299.39 1274.5,299.74 1275.5,300.09 1276.5,300.44 1277.5,300.8 1278.5,301.15 1279.5,301.5 1280.5,301.86 1281.5,302.21 1282.5,302.57 1283.5,302.93 1284.5,303.28 1285.5,303.64 1286.5,304 1287.5,304.36 1288.5,304.72 1289.5,305.08 1290.5,305.44 1291.5,305.81 1292.5,306.17 1293.5,306.53 1294.5,306.9 1295.5,307.26 1296.5,307.63 1297.5,307.99 1298.5,308.36 1299.5,308.73 1300.5,309.09 1301.5,309.46 1302.5,309.83 1303.5,310.2 1304.5,310.57 1305.5,310.94 1306.5,311.31 1307.5,311.69 1308.5,312.06 1309.5,312.43 1310.5,312.81 1311.5,313.18 1312.5,313.56 1313.5,313.94 1314.5,314.31 1315.5,314.69 1316.5,315.07 1317.5,315.45 1318.5,315.83 1319.5,316.21 1320.5,316.59 1321.5,316.97 1322.5,317.35 1323.5,317.74 1324.5,318.12 1325.5,318.5 1326.5,318.89 1327.5,319.28 1328.5,319.66 1329.5,320.05 1330.5,320.44 1331.5,320.83 1332.5,321.21 1333.5,321.6 1334.5,321.99 1335.5,322.39 1336.5,322.78 1337.5,323.17 1338.5,323.56 1339.5,323.96 1340.5,324.35 1341.5,324.75 1342.5,325.15 1343.5,325.54 1344.5,325.94 1345.5,326.34 1346.5,326.74 1347.5,327.14 1348.5,327.54 1349.5,327.94 1350.5,328.34 1351.5,328.75 1352.5,329.15 1353.5,329.56 1354.5,329.96 1355.5,330.37 1356.5,330.77 1357.5,331.18 1358.5,331.59 1359.5,332 1360.5,332.41 1361.5,332.82 1362.5,333.23 1363.5,333.65 1364.5,334.06 1365.5,334.48 1366.5,334.89 1367.5,335.31 1368.5,335.73 1369.5,336.14 1370.5,336.56 1371.5,336.98 1372.5,337.4 1373.5,337.82 1374.5,338.25 1375.5,338.67 1376.5,339.1 1377.5,339.52 1378.5,339.95 1379.5,340.37 1380.5,340.8 1381.5,341.23 1382.5,341.66 1383.5,342.09 1384.5,342.53 1385.5,342.96 1386.5,343.39 1387.5,343.83 1388.5,344.27 1389.5,344.7 1390.5,345.14 1391.5,345.58 1392.5,346.02 1393.5,346.46 1394.5,346.9 1395.5,347.35 1396.5,347.79 1397.5,348.24 1398.5,348.69 1399.5,349.13 1400.5,349.58 1401.5,350.03 1402.5,350.48 1403.5,350.94 1404.5,351.39 1405.5,351.84 1406.5,352.3 1407.5,352.76 1408.5,353.22 1409.5,353.68 1410.5,354.14 1411.5,354.6 1412.5,355.06 1413.5,355.52 1414.5,355.99 1415.5,356.46 1416.5,356.92 1417.5,357.39 1418.5,357.86 1419.5,358.34 1420.5,358.81 1421.5,359.28 1422.5,359.76 1423.5,360.24 1424.5,360.71 1425.5,361.19 1426.5,361.67 1427.5,362.16 1428.5,362.64 1429.5,363.12 1430.5,363.61 1431.5,364.1 1432.5,364.58 1433.5,365.07 1434.5,365.57 1435.5,366.06 1436.5,366.55 1437.5,367.05 1438.5,367.55 1439.5,368.04 1440.5,368.54 1441.5,369.04 1442.5,369.55 1443.5,370.05 1444.5,370.56 1445.5,371.06 1446.5,371.57 1447.5,372.08 1448.5,372.59 1449.5,373.1 1450.5,373.62 1451.5,374.13 1452.5,374.65 1453.5,375.17 1454.5,375.69 1455.5,376.21 1456.5,376.73 1457.5,377.25 1458.5,377.78 1459.5,378.31 1460.5,378.83 1461.5,379.36 1462.5,379.89 1463.5,380.43 1464.5,380.96 1465.5,381.5 1466.5,382.03 1467.5,382.57 1468.5,383.11 1469.5,383.66 1470.5,384.2 1471.5,384.74 1472.5,385.29 1473.5,385.84 1474.5,386.39 1475.5,386.94 1476.5,387.49 1477.5,388.04 1478.5,388.6 1479.5,389.15 1480.5,389.71 1481.5,390.27 1482.5,390.83 1483.5,391.4 1484.5,391.96 1485.5,392.52 1486.5,393.09 1487.5,393.66 1488.5,394.23 1489.5,394.8 1490.5,395.37 1491.5,395.95 1492.5,396.52 1493.5,397.1 1494.5,397.68 1495.5,398.26 1496.5,398.84 1497.5,399.42 1498.5,400.01 1499.5,400.6 1500.5,401.18 1501.5,401.77 1502.5,402.36 1503.5,402.95 1504.5,403.55 1505.5,404.14 1506.5,404.74 1507.5,405.33 1508.5,405.93 1509.5,406.53 1510.5,407.13 1511.5,407.74 1512.5,408.34 1513.5,408.95 1514.5,409.55 1515.5,410.16 1516.5,410.77 1517.5,411.38 1518.5,411.99 1519.5,412.61 1520.5,413.22 1521.5,413.84 1522.5,414.46 1523.5,415.07 1524.5,415.69 1525.5,416.32 1526.5,416.94 1527.5,417.56 1528.5,418.19 1529.5,418.81 1530.5,419.44 1531.5,420.07 1532.5,420.7 1533.5,421.33 1534.5,421.96 1535.5,422.6 1536.5,423.23 1537.5,423.87 1538.5,424.5 1539.5,425.14 1540.5,425.78 1541.5,426.42 1542.5,427.06 1543.5,427.71 1544.5,428.35 1545.5,429 1546.5,429.64 1547.5,430.29 1548.5,430.94 1549.5,431.59 1550.5,432.24 1551.5,432.89 1552.5,433.54 1553.5,434.2 1554.5,434.85 1555.5,435.51 1556.5,436.16 1557.5,436.82 1558.5,437.48 1559.5,438.14 1560.5,438.8 1561.5,439.46 1562.5,440.12 1563.5,440.79 1564.5,441.45 1565.5,442.12 1566.5,442.78 1567.5,443.45 1568.5,444.12 1569.5,444.79 1570.5,445.46 1571.5,446.13 1572.5,446.8 1573.5,447.47 1574.5,448.15 1575.5,448.82 1576.5,449.5 1577.5,450.17 1578.5,450.85 1579.5,451.53 1580.5,452.2 1581.5,452.88 1582.5,453.56 1583.5,454.24 1584.5,454.93 1585.5,455.61 1586.5,456.29 1587.5,456.97 1588.5,457.66 1589.5,458.34 1590.5,459.01 1591.5,459.69 1592.5,460.37 1593.5,461.05 1594.5,461.73 1595.5,462.41 1596.5,463.09 1597.5,463.77 1598.5,464.46 1599.5,465.14 1600.5,465.82 1601.5,466.51 1602.5,467.19 1603.5,467.88 1604.5,468.57 1605.5,469.25 1606.5,469.94 1607.5,470.63 1608.5,471.32 1609.5,472.01 1610.5,472.7 1611.5,473.39 1612.5,474.08 1613.5,474.77 1614.5,475.47 1615.5,476.16 1616.5,476.85 1617.5,477.55 1618.5,478.24 1619.5,478.93 1620.5,479.63 1621.5,480.33 1622.5,481.02 1623.5,481.72 1624.5,482.42 1625.5,483.11 1626.5,483.81 1627.5,484.51 1628.5,485.21 1629.5,485.91 1630.5,486.61 1631.5,487.31 1632.5,488.01 1633.5,488.71 1634.5,489.41 1635.5,490.11 1636.5,490.82 1637.5,491.52 1638.5,492.22 1639.5,492.93 1640.5,493.63 1641.5,494.33 1642.5,495.04 1643.5,495.74 1644.5,496.45 1645.5,497.16 1646.5,497.86 1647.5,498.57 1648.5,499.27 1649.5,499.98 1650.5,500.69 1651.5,501.4 1652.5,502.1 1653.5,502.81 1654.5,503.52 1655.5,504.23 1656.5,504.94 1657.5,505.65 1658.5,506.36 1659.5,507.07 1660.5,507.78 1661.5,508.49 1662.5,509.2 1663.5,509.91 1664.5,510.62 1665.5,511.34 1666.5,512.05 1667.5,512.76 1668.5,513.47 1669.5,514.19 1670.5,514.9 1671.5,515.61 1672.5,516.33 1673.5,517.04 1674.5,517.75 1675.5,518.47 1676.5,519.18 1677.5,519.9 1678.5,520.61 1679.5,521.33 1680.5,522.04 1681.5,522.76 1682.5,523.47 1683.5,524.19 1684.5,524.91 1685.5,525.62 1686.5,526.34 1687.5,527.06 1688.5,527.77 1689.5,528.49 1690.5,529.21 1691.5,529.93 1692.5,530.64 1693.5,531.36 1694.5,532.08 1695.5,532.8 1696.5,533.52 1697.5,534.23 1698.5,534.95 1699.5,535.67 1700.5,536.39 1701.5,537.11 1702.5,537.83 1703.5,538.55 1704.5,539.27 1705.5,539.99 1706.5,540.71 1706.5,563.64 1705.5,563.64 1704.5,563.64 1703.5,563.64 1702.5,563.64 1701.5,563.64 1700.5,563.64 1699.5,563.64 1698.5,563.64 1697.5,563.64 1696.5,563.64 1695.5,563.64 1694.5,563.64 1693.5,563.64 1692.5,563.64 1691.5,563.64 1690.5,563.64 1689.5,563.21 1688.5,562.49 1687.5,561.77 1686.5,561.05 1685.5,560.33 1684.5,559.61 1683.5,558.89 1682.5,558.17 1681.5,557.45 1680.5,556.73 1679.5,556.02 1678.5,555.3 1677.5,554.58 1676.5,553.86 1675.5,553.14 1674.5,552.43 1673.5,551.71 1672.5,550.99 1671.5,550.27 1670.5,549.56 1669.5,548.84 1668.5,548.12 1667.5,547.41 1666.5,546.69 1665.5,545.97 1664.5,545.26 1663.5,544.54 1662.5,543.83 1661.5,543.11 1660.5,542.4 1659.5,541.68 1658.5,540.97 1657.5,540.25 1656.5,539.54 1655.5,538.83 1654.5,538.11 1653.5,537.4 1652.5,536.69 1651.5,535.97 1650.5,535.26 1649.5,534.55 1648.5,533.84 1647.5,533.12 1646.5,532.41 1645.5,531.7 1644.5,530.99 1643.5,530.28 1642.5,529.57 1641.5,528.86 1640.5,528.15 1639.5,527.44 1638.5,526.73 1637.5,526.02 1636.5,525.31 1635.5,524.6 1634.5,523.9 1633.5,523.19 1632.5,522.48 1631.5,521.77 1630.5,521.07 1629.5,520.36 1628.5,519.66 1627.5,518.95 1626.5,518.24 1625.5,517.54 1624.5,516.83 1623.5,516.13 1622.5,515.43 1621.5,514.72 1620.5,514.02 1619.5,513.32 1618.5,512.61 1617.5,511.91 1616.5,511.21 1615.5,510.51 1614.5,509.81 1613.5,509.11 1612.5,508.41 1611.5,507.71 1610.5,507.01 1609.5,506.31 1608.5,505.61 1607.5,504.92 1606.5,504.22 1605.5,503.52 1604.5,502.83 1603.5,502.13 1602.5,501.43 1601.5,500.74 1600.5,500.05 1599.5,499.35 1598.5,498.66 1597.5,497.97 1596.5,497.27 1595.5,496.58 1594.5,495.89 1593.5,495.2 1592.5,494.51 1591.5,493.82 1590.5,493.13 1589.5,492.44 1588.5,491.75 1587.5,491.07 1586.5,490.38 1585.5,489.69 1584.5,489.01 1583.5,488.32 1582.5,487.64 1581.5,486.96 1580.5,486.27 1579.5,485.59 1578.5,484.91 1577.5,484.23 1576.5,483.55 1575.5,482.87 1574.5,482.19 1573.5,481.51 1572.5,480.84 1571.5,480.16 1570.5,479.47 1569.5,478.79 1568.5,478.11 1567.5,477.43 1566.5,476.74 1565.5,476.06 1564.5,475.38 1563.5,474.7 1562.5,474.03 1561.5,473.35 1560.5,472.67 1559.5,472 1558.5,471.32 1557.5,470.65 1556.5,469.97 1555.5,469.3 1554.5,468.63 1553.5,467.96 1552.5,467.29 1551.5,466.62 1550.5,465.95 1549.5,465.28 1548.5,464.62 1547.5,463.95 1546.5,463.29 1545.5,462.62 1544.5,461.96 1543.5,461.3 1542.5,460.64 1541.5,459.98 1540.5,459.32 1539.5,458.66 1538.5,458.01 1537.5,457.35 1536.5,456.7 1535.5,456.04 1534.5,455.39 1533.5,454.74 1532.5,454.09 1531.5,453.44 1530.5,452.79 1529.5,452.14 1528.5,451.5 1527.5,450.85 1526.5,450.21 1525.5,449.56 1524.5,448.92 1523.5,448.28 1522.5,447.64 1521.5,447 1520.5,446.37 1519.5,445.73 1518.5,445.1 1517.5,444.46 1516.5,443.83 1515.5,443.2 1514.5,442.57 1513.5,441.94 1512.5,441.31 1511.5,440.69 1510.5,440.06 1509.5,439.44 1508.5,438.82 1507.5,438.19 1506.5,437.57 1505.5,436.96 1504.5,436.34 1503.5,435.72 1502.5,435.11 1501.5,434.49 1500.5,433.88 1499.5,433.27 1498.5,432.66 1497.5,432.05 1496.5,431.45 1495.5,430.84 1494.5,430.24 1493.5,429.63 1492.5,429.03 1491.5,428.43 1490.5,427.83 1489.5,427.24 1488.5,426.64 1487.5,426.05 1486.5,425.45 1485.5,424.86 1484.5,424.27 1483.5,423.68 1482.5,423.1 1481.5,422.51 1480.5,421.92 1479.5,421.34 1478.5,420.76 1477.5,420.18 1476.5,419.6 1475.5,419.02 1474.5,418.45 1473.5,417.87 1472.5,417.3 1471.5,416.73 1470.5,416.16 1469.5,415.59 1468.5,415.02 1467.5,414.46 1466.5,413.9 1465.5,413.33 1464.5,412.77 1463.5,412.21 1462.5,411.65 1461.5,411.1 1460.5,410.54 1459.5,409.99 1458.5,409.44 1457.5,408.89 1456.5,408.34 1455.5,407.79 1454.5,407.24 1453.5,406.7 1452.5,406.16 1451.5,405.61 1450.5,405.07 1449.5,404.53 1448.5,404 1447.5,403.46 1446.5,402.93 1445.5,402.39 1444.5,401.86 1443.5,401.33 1442.5,400.81 1441.5,400.28 1440.5,399.75 1439.5,399.23 1438.5,398.71 1437.5,398.19 1436.5,397.67 1435.5,397.15 1434.5,396.63 1433.5,396.12 1432.5,395.6 1431.5,395.09 1430.5,394.58 1429.5,394.07 1428.5,393.56 1427.5,393.06 1426.5,392.55 1425.5,392.05 1424.5,391.54 1423.5,391.04 1422.5,390.54 1421.5,390.05 1420.5,389.55 1419.5,389.05 1418.5,388.56 1417.5,388.07 1416.5,387.57 1415.5,387.08 1414.5,386.6 1413.5,386.11 1412.5,385.62 1411.5,385.14 1410.5,384.66 1409.5,384.17 1408.5,383.69 1407.5,383.21 1406.5,382.74 1405.5,382.26 1404.5,381.78 1403.5,381.31 1402.5,380.84 1401.5,380.36 1400.5,379.89 1399.5,379.42 1398.5,378.96 1397.5,378.49 1396.5,378.02 1395.5,377.56 1394.5,377.1 1393.5,376.64 1392.5,376.18 1391.5,375.72 1390.5,375.26 1389.5,374.8 1388.5,374.34 1387.5,373.89 1386.5,373.44 1385.5,372.98 1384.5,372.53 1383.5,372.08 1382.5,371.63 1381.5,371.19 1380.5,370.74 1379.5,370.29 1378.5,369.85 1377.5,369.4 1376.5,368.96 1375.5,368.52 1374.5,368.08 1373.5,367.64 1372.5,367.2 1371.5,366.77 1370.5,366.33 1369.5,365.89 1368.5,365.46 1367.5,365.03 1366.5,364.59 1365.5,364.16 1364.5,363.73 1363.5,363.3 1362.5,362.87 1361.5,362.45 1360.5,362.02 1359.5,361.6 1358.5,361.17 1357.5,360.75 1356.5,360.32 1355.5,359.9 1354.5,359.48 1353.5,359.06 1352.5,358.64 1351.5,358.23 1350.5,357.81 1349.5,357.39 1348.5,356.98 1347.5,356.56 1346.5,356.15 1345.5,355.73 1344.5,355.32 1343.5,354.91 1342.5,354.5 1341.5,354.09 1340.5,353.68 1339.5,353.27 1338.5,352.87 1337.5,352.46 1336.5,352.06 1335.5,351.65 1334.5,351.25 1333.5,350.84 1332.5,350.44 1331.5,350.04 1330.5,349.64 1329.5,349.24 1328.5,348.84 1327.5,348.44 1326.5,348.04 1325.5,347.65 1324.5,347.25 1323.5,346.85 1322.5,346.46 1321.5,346.06 1320.5,345.67 1319.5,345.28 1318.5,344.89 1317.5,344.49 1316.5,344.1 1315.5,343.71 1314.5,343.33 1313.5,342.94 1312.5,342.55 1311.5,342.16 1310.5,341.78 1309.5,341.39 1308.5,341 1307.5,340.62 1306.5,340.24 1305.5,339.85 1304.5,339.47 1303.5,339.09 1302.5,338.71 1301.5,338.33 1300.5,337.95 1299.5,337.57 1298.5,337.19 1297.5,336.81 1296.5,336.44 1295.5,336.06 1294.5,335.68 1293.5,335.31 1292.5,334.93 1291.5,334.56 1290.5,334.19 1289.5,333.81 1288.5,333.44 1287.5,333.07 1286.5,332.7 1285.5,332.33 1284.5,331.96 1283.5,331.59 1282.5,331.23 1281.5,330.86 1280.5,330.49 1279.5,330.13 1278.5,329.76 1277.5,329.4 1276.5,329.03 1275.5,328.67 1274.5,328.31 1273.5,327.94 1272.5,327.58 1271.5,327.22 1270.5,326.86 1269.5,326.5 1268.5,326.14 1267.5,325.78 1266.5,325.43 1265.5,325.07 1264.5,324.71 1263.5,324.36 1262.5,324 1261.5,323.65 1260.5,323.3 1259.5,322.94 1258.5,322.59 1257.5,322.24 1256.5,321.89 1255.5,321.54 1254.5,321.19 1253.5,320.84 1252.5,320.49 1251.5,320.15 1250.5,319.8 1249.5,319.45 1248.5,319.11 1247.5,318.76 1246.5,318.42 1245.5,318.08 1244.5,317.73 1243.5,317.39 1242.5,317.05 1241.5,316.71 1240.5,316.37 1239.5,316.03 1238.5,315.7 1237.5,315.36 1236.5,315.02 1235.5,314.69 1234.5,314.35 1233.5,314.02 1232.5,313.69 1231.5,313.35 1230.5,313.02 1229.5,312.69 1228.5,312.36 1227.5,312.03 1226.5,311.7 1225.5,311.38 1224.5,311.05 1223.5,310.72 1222.5,310.4 1221.5,310.07 1220.5,309.75 1219.5,309.43 1218.5,309.11 1217.5,308.79 1216.5,308.47 1215.5,308.15 1214.5,307.83 1213.5,307.51 1212.5,307.2 1211.5,306.88 1210.5,306.57 1209.5,306.25 1208.5,305.94 1207.5,305.63 1206.5,305.32 1205.5,305.01 1204.5,304.7 1203.5,304.39 1202.5,304.08 1201.5,303.78 1200.5,303.47 1199.5,303.17 1198.5,302.87 1197.5,302.57 1196.5,302.26 1195.5,301.97 1194.5,301.67 1193.5,301.37 1192.5,301.07 1191.5,300.78 1190.5,300.48 1189.5,300.19 1188.5,299.9 1187.5,299.61 1186.5,299.31 1185.5,299.03 1184.5,298.74 1183.5,298.45 1182.5,298.17 1181.5,297.88 1180.5,297.6 1179.5,297.32 1178.5,297.03 1177.5,296.75 1176.5,296.48 1175.5,296.2 1174.5,295.92 1173.5,295.65 1172.5,295.37 1171.5,295.1 1170.5,294.83 1169.5,294.56 1168.5,294.29 1167.5,294.02 1166.5,293.76 1165.5,293.49 1164.5,293.23 1163.5,292.96 1162.5,292.7 1161.5,292.44 1160.5,292.18 1159.5,291.93 1158.5,291.67 1157.5,291.41 1156.5,291.16 1155.5,290.91 1154.5,290.66 1153.5,290.41 1152.5,290.16 1151.5,289.91 1150.5,289.67 1149.5,289.42 1148.5,289.18 1147.5,288.94 1146.5,288.7 1145.5,288.46 1144.5,288.22 1143.5,287.99 1142.5,287.75 1141.5,287.52 1140.5,287.29 1139.5,287.06 1138.5,286.83 1137.5,286.6 1136.5,286.37 1135.5,286.15 1134.5,285.93 1133.5,285.71 1132.5,285.49 1131.5,285.27 1130.5,285.05 1129.5,284.83 1128.5,284.62 1127.5,284.41 1126.5,284.2 1125.5,283.99 1124.5,283.78 1123.5,283.57 1122.5,283.36 1121.5,283.16 1120.5,282.96 1119.5,282.76 1118.5,282.56 1117.5,282.36 1116.5,282.16 1115.5,281.97 1114.5,281.77 1113.5,281.58 1112.5,281.39 1111.5,281.2 1110.5,281.01 1109.5,280.83 1108.5,280.64 1107.5,280.46 1106.5,280.28 1105.5,280.1 1104.5,279.92 1103.5,279.74 1102.5,279.57 1101.5,279.39 1100.5,279.22 1099.5,279.05 1098.5,278.88 1097.5,278.71 1096.5,278.54 1095.5,278.38 1094.5,278.21 1093.5,278.05 1092.5,277.89 1091.5,277.73 1090.5,277.57 1089.5,277.42 1088.5,277.26 1087.5,277.11 1086.5,276.95 1085.5,276.8 1084.5,276.65 1083.5,276.51 1082.5,276.36 1081.5,276.21 1080.5,276.07 1079.5,275.93 1078.5,275.79 1077.5,275.65 1076.5,275.51 1075.5,275.37 1074.5,275.24 1073.5,275.1 1072.5,274.97 1071.5,274.84 1070.5,274.71 1069.5,274.58 1068.5,274.45 1067.5,274.33 1066.5,274.2 1065.5,274.08 1064.5,273.96 1063.5,273.83 1062.5,273.71 1061.5,273.6 1060.5,273.48 1059.5,273.36 1058.5,273.25 1057.5,273.14 1056.5,273.02 1055.5,272.91 1054.5,272.8 1053.5,272.7 1052.5,272.59 1051.5,272.48 1050.5,272.38 1049.5,272.28 1048.5,272.17 1047.5,272.07 1046.5,271.97 1045.5,271.87 1044.5,271.78 1043.5,271.68 1042.5,271.59 1041.5,271.49 1040.5,271.4 1039.5,271.31 1038.5,271.22 1037.5,271.13 1036.5,271.04 1035.5,270.95 1034.5,270.86 1033.5,270.78 1032.5,270.69 1031.5,270.61 1030.5,270.53 1029.5,270.45 1028.5,270.37 1027.5,270.29 1026.5,270.21 1025.5,270.13 1024.5,270.05 1023.5,269.98 1022.5,269.9 1021.5,269.83 1020.5,269.76 1019.5,269.69 1018.5,269.62 1017.5,269.55 1016.5,269.48 1015.5,269.41 1014.5,269.34 1013.5,269.28 1012.5,269.21 1011.5,269.15 1010.5,269.08 1009.5,269.02 1008.5,268.96 1007.5,268.9 1006.5,268.84 1005.5,268.78 1004.5,268.72 1003.5,268.66 1002.5,268.6 1001.5,268.55 1000.5,268.49 999.5,268.43 998.5,268.38 997.5,268.33 996.5,268.27 995.5,268.22 994.5,268.17 993.5,268.12 992.5,268.07 991.5,268.02 990.5,267.97 989.5,267.92 988.5,267.88 987.5,267.83 986.5,267.78 985.5,267.74 984.5,267.69 983.5,267.65 982.5,267.61 981.5,267.56 980.5,267.52 979.5,267.48 978.5,267.44 977.5,267.4 976.5,267.36 975.5,267.32 974.5,267.28 973.5,267.24 972.5,267.2 971.5,267.17 970.5,267.13 969.5,267.09 968.5,267.06 967.5,267.02 966.5,266.99 965.5,266.95 964.5,266.92 963.5,266.89 962.5,266.85 961.5,266.82 960.5,266.79 959.5,266.76 958.5,266.73 957.5,266.7 956.5,266.67 955.5,266.64 954.5,266.61 953.5,266.58 952.5,266.55 951.5,266.52 950.5,266.5 949.5,266.47 948.5,266.44 947.5,266.42 946.5,266.39 945.5,266.37 944.5,266.34 943.5,266.32 942.5,266.29 941.5,266.27 940.5,266.24 939.5,266.22 938.5,266.2 937.5,266.18 936.5,266.15 935.5,266.13 934.5,266.11 933.5,266.09 932.5,266.07 931.5,266.05 930.5,266.03 929.5,266.01 928.5,265.99 927.5,265.97 926.5,265.95 925.5,265.93 924.5,265.91 923.5,265.89 922.5,265.87 921.5,265.86 920.5,265.84 919.5,265.82 918.5,265.8 917.5,265.79 916.5,265.77 915.5,265.76 914.5,265.74 913.5,265.72 912.5,265.71 911.5,265.69 910.5,265.68 909.5,265.66 908.5,265.65 907.5,265.63 906.5,265.62 905.5,265.61 904.5,265.59 903.5,265.58 902.5,265.57 901.5,265.55 900.5,265.54 899.5,265.53 898.5,265.51 897.5,265.5 896.5,265.49 895.5,265.48 894.5,265.47 893.5,265.45 892.5,265.44 891.5,265.43 890.5,265.42 889.5,265.41 888.5,265.4 887.5,265.39 886.5,265.38 885.5,265.37 884.5,265.36 883.5,265.35 882.5,265.34 881.5,265.33 880.5,265.32 879.5,265.31 878.5,265.3 877.5,265.29 876.5,265.28 875.5,265.27 874.5,265.27 873.5,265.26 872.5,265.25 871.5,265.24 870.5,265.23 869.5,265.22 868.5,265.22 867.5,265.21 866.5,265.2 865.5,265.19 864.5,265.19 863.5,265.18 862.5,265.17 861.5,265.16 860.5,265.16 859.5,265.15 858.5,265.14 857.5,265.14 856.5,265.13 855.5,265.12 854.5,265.12 853.5,265.11 852.5,265.11 851.5,265.1 850.5,265.09 849.5,265.09 848.5,265.08 847.5,265.08 846.5,265.07 845.5,265.07 844.5,265.06 843.5,265.05 842.5,265.05 841.5,265.04 840.5,265.04 839.5,265.03 838.5,265.03 837.5,265.02 836.5,265.02 835.5,265.02 834.5,265.01 833.5,265.01 832.5,265 831.5,265 830.5,264.99 829.5,264.99 828.5,264.98 827.5,264.98 826.5,264.98 825.5,264.97 824.5,264.97 823.5,264.96 822.5,264.96 821.5,264.96 820.5,264.95 819.5,264.95 818.5,264.95 817.5,264.94 816.5,264.94 815.5,264.94 814.5,264.93 813.5,264.93 812.5,264.93 811.5,264.92 810.5,264.92 809.5,264.92 808.5,264.91 807.5,264.91 806.5,264.91 805.5,264.9 804.5,264.9 803.5,264.9 802.5,264.9 801.5,264.89 800.5,264.89 799.5,264.89 798.5,264.88 797.5,264.88 796.5,264.88 795.5,264.88 794.5,264.87 793.5,264.87 792.5,264.87 791.5,264.87 790.5,264.87 789.5,264.86 788.5,264.86 787.5,264.86 786.5,264.86 785.5,264.85 784.5,264.85 783.5,264.85 782.5,264.85 781.5,264.85 780.5,264.84 779.5,264.84 778.5,264.84 777.5,264.84 776.5,264.84 775.5,264.83 774.5,264.83 773.5,264.83 772.5,264.83 771.5,264.83 770.5,264.83 769.5,264.82 768.5,264.82 767.5,264.82 766.5,264.82 765.5,264.82 764.5,264.82 763.5,264.81 762.5,264.81 761.5,264.81 760.5,264.81 759.5,264.81 758.5,264.81 757.5,264.81 756.5,264.8 755.5,264.8 754.5,264.8 753.5,264.8 752.5,264.8 751.5,264.8 750.5,264.8 749.5,264.8 748.5,264.79 747.5,264.79 746.5,264.79 745.5,264.79 744.5,264.79 743.5,264.79 742.5,264.79 741.5,264.79 740.5,264.79 739.5,264.78 738.5,264.78 737.5,264.78 736.5,264.78 735.5,264.78 734.5,264.78 733.5,264.78 732.5,264.78 731.5,264.78 730.5,264.78 729.5,264.78 728.5,264.77 727.5,264.77 726.5,264.77 725.5,264.77 724.5,264.77 723.5,264.77 722.5,264.77 721.5,264.77 720.5,264.77 719.5,264.77 718.5,264.77 717.5,264.77 716.5,264.77 715.5,264.76 714.5,264.76 713.5,264.76 712.5,264.76 711.5,264.76 710.5,264.76 709.5,264.76 708.5,264.76 707.5,264.76 706.5,264.76 705.5,264.76 704.5,264.76 703.5,264.76 702.5,264.76 701.5,264.76 700.5,264.76 699.5,264.75 698.5,264.75 697.5,264.75 696.5,264.75 695.5,264.75 694.5,264.75 693.5,264.75 692.5,264.75 691.5,264.75 690.5,264.75 689.5,264.75 688.5,264.75 687.5,264.75 686.5,264.75 685.5,264.75 684.5,264.75 683.5,264.75 682.5,264.75 681.5,264.75" fill="#ff00ff" shape-rendering="crispEdges"/>
<polyline points="281,931.64 283,931.53 285,931.43 287,931.34 289,931.24 291,931.15 293,931.06 295,930.98 297,930.9 299,930.82 301,930.74 303,930.67 305,930.6 307,930.53 309,930.46 311,930.4 313,930.33 315,930.27 317,930.22 319,930.16 321,930.11 323,930.05 325,930 327,929.95 329,929.91 331,929.86 333,929.82 335,929.77 337,929.73 339,929.69 341,929.66 343,929.62 345,929.58 347,929.55 349,929.52 351,929.48 353,929.45 355,929.42 357,929.4 359,929.37 361,929.34 363,929.32 365,929.29 367,929.27 369,929.24 371,929.22 373,929.2 375,929.18 377,929.16 379,929.14 381,929.12 383,929.11 385,929.09 387,929.08 389,929.06 391,929.04 393,929.03 395,929.02 397,929 399,928.99 401,928.98 403,928.97 405,928.96 407,928.95 409,928.94 411,928.93 413,928.92 415,928.91 417,928.9 419,928.9 421,928.89 423,928.88 425,928.88 427,928.87 429,928.86 431,928.86 433,928.85 435,928.85 437,928.84 439,928.84 441,928.84 443,928.83 445,928.83 447,928.83 449,928.83 451,928.82 453,928.82 455,928.82 457,928.82 459,928.82 461,928.82 463,928.82 465,928.82 467,928.82 469,928.82 471,928.82 473,928.82 475,928.82 477,928.82 479,928.82 481,928.82 483,928.82 485,928.83 487,928.83 489,928.83 491,928.83 493,928.84 495,928.84 497,928.84 499,928.84 501,928.85 503,928.85 505,928.86 507,928.86 509,928.86 511,928.87 513,928.87 515,928.88 517,928.88 519,928.89 521,928.89 523,928.9 525,928.91 527,928.91 529,928.92 531,928.92 533,928.93 535,928.94 537,928.94 539,928.95 541,928.96 543,928.97 545,928.97 547,928.98 549,928.99 551,929 553,929.01 555,929.01 557,929.02 559,929.03 561,929.04 563,929.05 565,929.06 567,929.07 569,929.08 571,929.09 573,929.1 575,929.11 577,929.12 579,929.13 581,929.14 583,929.16 585,929.17 587,929.18 589,929.19 591,929.2 593,929.22 595,929.23 597,929.24 599,929.25 601,929.27 603,929.28 605,929.3 607,929.31 609,929.32 611,929.34 613,929.35 615,929.37 617,929.38 619,929.4 621,929.42 623,929.43 625,929.45 627,929.47 629,929.48 631,929.5 633,929.52 635,929.54 637,929.55 639,929.57 641,929.59 643,929.61 645,929.63 647,929.65 649,929.67 651,929.69 653,929.71 655,929.73 657,929.76 659,929.78 661,929.8 663,929.82 665,929.85 667,929.87 669,929.89 671,929.92 673,929.94 675,929.97 677,929.99 679,930.02 681,930.04 683,930.07 685,930.1 687,930.13 689,930.15 691,930.18 693,930.21 695,930.24 697,930.27 699,930.3 701,930.33 703,930.36 705,930.39 707,930.43 709,930.46 711,930.49 713,930.52 715,930.55 717,930.59 719,930.62 721,930.65 723,930.69 725,930.72 727,930.76 729,930.79 731,930.83 733,930.87 735,930.9 737,930.94 739,930.98 741,931.01 743,931.05 745,931.09 747,931.13 749,931.17 751,931.21 753,931.25 755,931.29 757,931.33 759,931.38 761,931.42 763,931.46 765,931.51 767,931.55 769,931.6 771,931.64 773,931.69 775,931.74 777,931.79 779,931.84 781,931.89 783,931.94 785,931.99 787,932.04 789,932.09 791,932.15 793,932.2 795,932.26 797,932.32 799,932.37 801,932.43 803,932.49 805,932.55 807,932.61 809,932.67 811,932.74 813,932.8 815,932.87 817,932.93 819,933 821,933.07 823,933.14 825,933.21 827,933.28 829,933.36 831,933.43 833,933.51 835,933.58 837,933.66 839,933.74 841,933.82 843,933.9 845,933.99 847,934.07 849,934.16 851,934.25 853,934.34 855,934.43 857,934.52 859,934.61 861,934.71 863,934.8 865,934.9 867,935 869,935.1 871,935.21 873,935.31 875,935.42 877,935.53 879,935.64 881,935.75 883,935.86 885,935.98 887,936.1 889,936.22 891,936.34 893,936.46 895,936.59 897,936.72 899,936.85 901,936.98 903,937.11 905,937.25 907,937.38 909,937.52 911,937.67 913,937.81 915,937.96 917,938.1 919,938.26 921,938.41 923,938.56 925,938.72 927,938.88 929,939.04 931,939.21 933,939.38 935,939.55 937,939.72 939,939.89 941,940.07 943,940.25 945,940.43 947,940.62 949,940.8 951,940.99 953,941.18 955,941.38 957,941.58 959,941.78 961,941.98 963,942.18 965,942.39 967,942.6 969,942.81 971,943.03 973,943.25 975,943.47 977,943.69 979,943.92 981,944.15 983,944.38 985,944.61 987,944.85 989,945.09 991,945.33 993,945.57 995,945.82 997,946.07 999,946.32 1001,946.57 1003,946.83 1005,947.09 1007,947.35 1009,947.61 1011,947.88 1013,948.15 1015,948.42 1017,948.69 1019,948.96 1021,949.24 1023,949.52 1025,949.8 1027,950.08 1029,950.37 1031,950.65 1033,950.94 1035,951.23 1037,951.52 1039,951.81 1041,952.1 1043,952.4 1045,952.7 1047,952.99 1049,953.29 1051,953.59 1053,953.89 1055,954.19 1057,954.49 1059,954.8 1061,955.1 1063,955.4 1065,955.71 1067,956.01 1069,956.31 1071,956.62 1073,956.92 1075,957.23 1077,957.53 1079,957.83 1081,958.14 1083,958.44 1085,958.74 1087,959.04 1089,959.34 1091,959.64 1093,959.93 1095,960.23 1097,960.52 1099,960.82 1101,961.11 1103,961.4 1105,961.68 1107,961.97 1109,962.25 1111,962.53 1113,962.8 1115,963.08 1117,963.35 1119,963.62 1121,963.88 1123,964.15 1125,964.41 1127,964.66 1129,964.91 1131,965.16 1133,965.41 1135,965.65 1137,965.89 1139,966.12 1141,966.35 1143,966.58 1145,966.8 1147,967.02 1149,967.23 1151,967.44 1153,967.65 1155,967.85 1157,968.05 1159,968.24 1161,968.42 1163,968.61 1165,968.79 1167,968.96 1169,969.13 1171,969.29 1173,969.45 1175,969.61 1177,969.76 1179,969.9 1181,970.05 1183,970.18 1185,970.31 1187,970.44 1189,970.56 1191,970.68 1193,970.79 1195,970.9 1197,971 1199,971.1 1201,971.19 1203,971.28 1205,971.37 1207,971.45 1209,971.52 1211,971.6 1213,971.66 1215,971.73 1217,971.78 1219,971.84 1221,971.89 1223,971.94 1225,971.98 1227,972.02 1229,972.05 1231,972.08 1233,972.11 1235,972.14 1237,972.16 1239,972.18 1241,972.19 1243,972.2 1245,972.21 1247,972.22 1249,972.22 1251,972.22 1253,972.22 1255,972.21 1257,972.21 1259,972.2 1261,972.19 1263,972.18 1265,972.17 1267,972.15 1269,972.14 1271,972.12 1273,972.1 1275,972.08 1277,972.06 1279,972.04 1281,972.02 1283,972 1285,971.98 1287,971.96 1289,971.94 1291,971.92 1293,971.9 1295,971.88 1297,971.87 1299,971.85 1301,971.83 1303,971.82 1305,971.81 1307,971.8 1309,971.79 1311,971.79 1313,971.78 1315,971.78 1317,971.79 1319,971.79 1321,971.8 1323,971.81 1325,971.82 1327,971.84 1329,971.86 1331,971.89 1333,971.92 1335,971.95 1337,971.99 1339,972.03 1341,972.08 1343,972.13 1345,972.18 1347,972.24 1349,972.31 1351,972.38 1353,972.46 1355,972.54 1357,972.62 1359,972.72 1361,972.81 1363,972.92 1365,973.03 1367,973.14 1369,973.27 1371,973.39 1373,973.53 1375,973.67 1377,973.82 1379,973.97 1381,974.13 1383,974.3 1385,974.47 1387,974.65 1389,974.84 1391,975.03 1393,975.23 1395,975.44 1397,975.65 1399,975.87 1401,976.11 1403,976.38 1405,976.65 1407,976.93 1409,977.21 1411,977.5 1413,977.8 1415,978.11 1417,978.42 1419,978.74 1421,979.06 1423,979.4 1425,979.74 1427,980.08 1429,980.44 1431,980.8 1433,981.17 1435,981.54 1437,981.92 1439,982.31 1441,982.7 1443,983.1 1445,983.51 1447,983.92 1449,984.34 1451,984.77 1453,985.2 1455,985.64 1457,986.08 1459,986.53 1461,986.99 1463,987.45 1465,987.92 1467,988.39 1469,988.87 1471,989.36 1473,989.85 1475,990.34 1477,990.84 1479,991.34 1481,991.85 1483,992.37 1485,992.89 1487,993.41 1489,993.94 1491,994.47 1493,995.01 1495,995.55 1497,996.1 1499,996.65 1501,997.2 1503,997.76 1505,998.32 1507,998.89 1509,999.45 1511,1000.03 1513,1000.6 1515,1001.18 1517,1001.76 1519,1002.35 1521,1002.93 1523,1003.52 1525,1004.12 1527,1004.71 1529,1005.31 1531,1005.91 1533,1006.51 1535,1007.12 1537,1007.73 1539,1008.34 1541,1008.94 1543,1009.54 1545,1010.15 1547,1010.75 1549,1011.36 1551,1011.96 1553,1012.57 1555,1013.18 1557,1013.79 1559,1014.41 1561,1015.02 1563,1015.63 1565,1016.25 1567,1016.87 1569,1017.48 1571,1018.1 1573,1018.72 1575,1019.34 1577,1019.95 1579,1020.57 1581,1021.19 1583,1021.81 1585,1022.43 1587,1023.05 1589,1023.67 1591,1024.28 1593,1024.9 1595,1025.52 1597,1026.14 1599,1026.75 1601,1027.37 1603,1027.98 1605,1028.59 1607,1029.21 1609,1029.82 1611,1030.43 1613,1031.03 1615,1031.64 1617,1032.25 1619,1032.85 1621,1033.45 1623,1034.05 1625,1034.65 1627,1035.24 1629,1035.84 1631,1036.43 1633,1037.02 1635,1037.6 1637,1038.19 1639,1038.77 1641,1039.33 1643,1039.86 1645,1040.4 1647,1040.93 1649,1041.45 1651,1041.98 1653,1042.5 1655,1043.01 1657,1043.53 1659,1044.04 1661,1044.54 1663,1045.05 1665,1045.55 1667,1046.04 1669,1046.53 1671,1047.02 1673,1047.51 1675,1047.99 1677,1048.46 1679,1048.94 1681,1049.41 1683,1049.87 1685,1050.33 1687,1050.79 1689,1051.24 1691,1051.69 1693,1052.13 1695,1052.57 1697,1053.01 1699,1053.44 1701,1053.86 1703,1054.29 1705,1054.7 1707,1055.12 1709,1055.52 1711,1055.93 1713,1056.33 1715,1056.72 1717,1057.11 1719,1057.5 1721,1057.88 1723,1058.26 1725,1058.63 1727,1059 1728,1059.18" fill="none" stroke="#0000ff" stroke-width="7" shape-rendering="crispEdges"/>
<path d="M281,768.4 L284.98,768.31 L288.97,768.22 L292.95,768.1 L296.93,767.96 L300.91,767.79 L304.9,767.59 L304.9,778.39 L300.91,778.59 L296.93,778.76 L292.95,778.9 L288.97,779.02 L284.98,779.11 L281,779.2Z M327.88,766.29 L331.92,766.1 L335.95,765.93 L339.98,765.8 L344.01,765.7 L348.05,765.6 L352.08,765.51 L352.08,776.31 L348.05,776.4 L344.01,776.5 L339.98,776.6 L335.95,776.73 L331.92,776.9 L327.88,777.09Z M375.08,765.1 L379.11,765.04 L383.15,764.97 L387.18,764.91 L391.21,764.84 L395.24,764.78 L399.28,764.71 L399.28,775.51 L395.24,775.58 L391.21,775.64 L387.18,775.71 L383.15,775.77 L379.11,775.84 L375.08,775.9Z M422.28,764.37 L426.31,764.31 L430.34,764.26 L434.38,764.2 L438.41,764.15 L442.44,764.1 L446.48,764.05 L446.48,774.85 L442.44,774.9 L438.41,774.95 L434.38,775 L430.34,775.06 L426.31,775.11 L422.28,775.17Z M469.48,763.77 L473.51,763.72 L477.54,763.66 L481.58,763.6 L485.61,763.54 L489.64,763.46 L493.67,763.39 L493.67,774.19 L489.64,774.26 L485.61,774.34 L481.58,774.4 L477.54,774.46 L473.51,774.52 L469.48,774.57Z M516.67,762.92 L520.71,762.84 L524.74,762.77 L528.77,762.71 L532.81,762.65 L536.84,762.59 L540.87,762.53 L540.87,773.33 L536.84,773.39 L532.81,773.45 L528.77,773.51 L524.74,773.57 L520.71,773.64 L516.67,773.72Z M563.87,762.25 L567.91,762.2 L571.94,762.15 L575.97,762.1 L580,762.05 L584.04,762 L588.07,761.95 L588.07,772.75 L584.04,772.8 L580,772.85 L575.97,772.9 L571.94,772.95 L567.91,773 L563.87,773.05Z M611.07,761.67 L615.1,761.62 L619.14,761.56 L623.17,761.5 L627.2,761.45 L631.24,761.38 L635.27,761.32 L635.27,772.12 L631.24,772.18 L627.2,772.25 L623.17,772.3 L619.14,772.36 L615.1,772.42 L611.07,772.47Z M658.27,760.92 L662.3,760.85 L666.34,760.78 L670.37,760.7 L674.4,760.63 L678.43,760.56 L682.47,760.49 L682.47,771.29 L678.43,771.36 L674.4,771.43 L670.37,771.5 L666.34,771.58 L662.3,771.65 L658.27,771.72Z M705.47,760.07 L709.5,759.99 L713.53,759.89 L717.57,759.79 L721.6,759.68 L725.63,759.56 L729.66,759.43 L729.66,770.23 L725.63,770.36 L721.6,770.48 L717.57,770.59 L713.53,770.69 L709.5,770.79 L705.47,770.87Z M752.66,758.54 L756.69,758.36 L760.72,758.19 L764.75,758.01 L768.79,757.83 L772.82,757.65 L776.85,757.46 L776.85,768.26 L772.82,768.45 L768.79,768.63 L764.75,768.81 L760.72,768.99 L756.69,769.16 L752.66,769.34Z M799.84,756.26 L803.87,756.02 L807.9,755.78 L811.93,755.52 L815.96,755.26 L819.99,754.98 L824.03,754.69 L824.03,765.49 L819.99,765.78 L815.96,766.06 L811.93,766.32 L807.9,766.58 L803.87,766.82 L799.84,767.06Z M847,752.8 L851.03,752.42 L855.05,752.03 L859.08,751.62 L863.11,751.19 L867.13,750.72 L871.16,750.23 L871.16,761.03 L867.13,761.52 L863.11,761.99 L859.08,762.42 L855.05,762.83 L851.03,763.22 L847,763.6Z M894.09,747.02 L898.11,746.43 L902.13,745.84 L906.15,745.26 L910.17,744.69 L914.19,744.12 L918.21,743.55 L918.21,754.35 L914.19,754.92 L910.17,755.49 L906.15,756.06 L902.13,756.64 L898.11,757.23 L894.09,757.82Z M941.14,740.15 L945.15,739.53 L949.17,738.89 L953.19,738.24 L957.2,737.57 L961.22,736.9 L965.24,736.21 L965.24,747.01 L961.22,747.7 L957.2,748.37 L953.19,749.04 L949.17,749.69 L945.15,750.33 L941.14,750.95Z M988.12,732.05 L992.12,731.26 L996.13,730.45 L1000.13,729.61 L1004.14,728.75 L1008.14,727.84 L1012.15,726.89 L1012.15,737.69 L1008.14,738.64 L1004.14,739.55 L1000.13,740.41 L996.13,741.25 L992.12,742.06 L988.12,742.85Z M1034.92,721.09 L1038.91,720.03 L1042.9,718.98 L1046.89,717.93 L1050.88,716.88 L1054.87,715.82 L1058.86,714.76 L1058.86,725.56 L1054.87,726.62 L1050.88,727.68 L1046.89,728.73 L1042.9,729.78 L1038.91,730.83 L1034.92,731.89Z M1081.6,708.51 L1085.58,707.38 L1089.56,706.23 L1093.54,705.08 L1097.52,703.89 L1101.5,702.68 L1105.48,701.45 L1105.48,712.25 L1101.5,713.48 L1097.52,714.69 L1093.54,715.88 L1089.56,717.03 L1085.58,718.18 L1081.6,719.31Z M1128.13,694.22 L1132.1,692.97 L1136.08,691.73 L1140.06,690.52 L1144.03,689.32 L1148.01,688.12 L1151.99,686.93 L1151.99,697.73 L1148.01,698.92 L1144.03,700.12 L1140.06,701.32 L1136.08,702.53 L1132.1,703.77 L1128.13,705.02Z M1174.69,680.27 L1178.67,679.15 L1182.66,678.04 L1186.65,676.96 L1190.64,675.89 L1194.63,674.84 L1198.62,673.8 L1198.62,684.6 L1194.63,685.64 L1190.64,686.69 L1186.65,687.76 L1182.66,688.84 L1178.67,689.95 L1174.69,691.07Z M1221.4,668.1 L1225.4,667.14 L1229.39,666.18 L1233.39,665.23 L1237.39,664.27 L1241.38,663.28 L1245.38,662.27 L1245.38,673.07 L1241.38,674.08 L1237.39,675.07 L1233.39,676.03 L1229.39,676.98 L1225.4,677.94 L1221.4,678.9Z M1268.18,656.88 L1272.2,656.09 L1276.22,655.37 L1280.24,654.75 L1284.26,654.18 L1288.27,653.64 L1292.29,653.12 L1292.29,663.92 L1288.27,664.44 L1284.26,664.98 L1280.24,665.55 L1276.22,666.17 L1272.2,666.89 L1268.18,667.68Z M1315.25,650.67 L1319.28,650.32 L1323.31,650 L1327.34,649.71 L1331.37,649.43 L1335.4,649.14 L1339.43,648.86 L1339.43,659.66 L1335.4,659.94 L1331.37,660.23 L1327.34,660.51 L1323.31,660.8 L1319.28,661.12 L1315.25,661.47Z M1362.42,647.54 L1366.45,647.41 L1370.48,647.33 L1374.52,647.3 L1378.55,647.32 L1382.58,647.36 L1386.62,647.44 L1386.62,658.24 L1382.58,658.16 L1378.55,658.12 L1374.52,658.1 L1370.48,658.13 L1366.45,658.21 L1362.42,658.34Z M1409.61,648.31 L1413.64,648.5 L1417.67,648.71 L1421.7,648.92 L1425.73,649.16 L1429.76,649.46 L1433.8,649.81 L1433.8,660.61 L1429.76,660.26 L1425.73,659.96 L1421.7,659.72 L1417.67,659.51 L1413.64,659.3 L1409.61,659.11Z M1456.75,652.41 L1460.77,652.91 L1464.8,653.4 L1468.82,653.87 L1472.85,654.35 L1476.87,654.84 L1480.89,655.35 L1480.89,666.15 L1476.87,665.64 L1472.85,665.15 L1468.82,664.67 L1464.8,664.2 L1460.77,663.71 L1456.75,663.21Z M1503.83,658.39 L1507.85,658.93 L1511.88,659.47 L1515.9,660.01 L1519.92,660.56 L1523.94,661.11 L1527.96,661.68 L1527.96,672.48 L1523.94,671.91 L1519.92,671.36 L1515.9,670.81 L1511.88,670.27 L1507.85,669.73 L1503.83,669.19Z M1550.89,664.89 L1554.92,665.43 L1558.94,665.95 L1562.97,666.44 L1566.99,666.93 L1571.01,667.41 L1575.04,667.88 L1575.04,678.68 L1571.01,678.21 L1566.99,677.73 L1562.97,677.24 L1558.94,676.75 L1554.92,676.23 L1550.89,675.69Z M1597.99,670.39 L1602.02,670.8 L1606.05,671.21 L1610.08,671.6 L1614.1,671.98 L1618.13,672.36 L1622.16,672.74 L1622.16,683.54 L1618.13,683.16 L1614.1,682.78 L1610.08,682.4 L1606.05,682.01 L1602.02,681.6 L1597.99,681.19Z M1645.13,674.73 L1649.16,675.04 L1653.19,675.34 L1657.22,675.62 L1661.25,675.89 L1665.28,676.16 L1669.31,676.41 L1669.31,687.21 L1665.28,686.96 L1661.25,686.69 L1657.22,686.42 L1653.19,686.14 L1649.16,685.84 L1645.13,685.53Z M1692.3,677.68 L1693.59,677.74 L1694.87,677.79 L1696.15,677.85 L1697.43,677.9 L1698.72,677.95 L1700,678 L1700,688.8 L1698.72,688.75 L1697.43,688.7 L1696.15,688.65 L1694.87,688.59 L1693.59,688.54 L1692.3,688.48Z" fill="#008000" shape-rendering="crispEdges"/>
<g fill="#ff00ff" fill-rule="evenodd" shape-rendering="crispEdges">
<path d="M343,916h17v23h-17zM350,923h3v9h-3z"/>
<path d="M424,916h17v23h-17zM431,923h3v9h-3z"/>
<path d="M473,916h17v23h-17zM480,923h3v9h-3z"/>
<path d="M508,916h17v23h-17zM515,923h3v9h-3z"/>
<path d="M536,916h17v23h-17zM543,923h3v9h-3z"/>
<path d="M558,916h17v23h-17zM565,923h3v9h-3z"/>
<path d="M577,916h17v23h-17zM584,923h3v9h-3z"/>
<path d="M594,917h17v23h-17zM601,924h3v9h-3z"/>
<path d="M608,917h17v23h-17zM615,924h3v9h-3z"/>
<path d="M622,917h17v23h-17zM629,924h3v9h-3z"/>
<path d="M633,917h17v23h-17zM640,924h3v9h-3z"/>
<path d="M644,917h17v23h-17zM651,924h3v9h-3z"/>
<path d="M654,917h17v23h-17zM661,924h3v9h-3z"/>
<path d="M663,917h17v23h-17zM670,924h3v9h-3z"/>
<path d="M672,917h17v23h-17zM679,924h3v9h-3z"/>
<path d="M680,917h17v23h-17zM687,924h3v9h-3z"/>
<path d="M688,918h17v23h-17zM695,925h3v9h-3z"/>
</g>
<polygon points="681.5,916.88 682.5,916.88 683.5,916.88 684.5,916.88 685.5,916.88 686.5,916.88 687.5,916.88 688.5,916.88 689.5,916.88 690.5,916.88 691.5,916.88 692.5,916.88 693.5,916.88 694.5,916.88 695.5,916.88 696.5,916.88 697.5,916.88 698.5,916.88 699.5,916.9 700.5,916.91 701.5,916.93 702.5,916.94 703.5,916.96 704.5,916.97 705.5,916.99 706.5,917 707.5,917.02 708.5,917.03 709.5,917.05 710.5,917.06 711.5,917.08 712.5,917.09 713.5,917.11 714.5,917.12 715.5,917.14 716.5,917.16 717.5,917.17 718.5,917.19 719.5,917.21 720.5,917.22 721.5,917.24 722.5,917.26 723.5,917.27 724.5,917.29 725.5,917.31 726.5,917.32 727.5,917.34 728.5,917.36 729.5,917.38 730.5,917.4 731.5,917.41 732.5,917.43 733.5,917.45 734.5,917.47 735.5,917.49 736.5,917.51 737.5,917.53 738.5,917.55 739.5,917.57 740.5,917.58 741.5,917.6 742.5,917.62 743.5,917.64 744.5,917.66 745.5,917.68 746.5,917.71 747.5,917.73 748.5,917.75 749.5,917.77 750.5,917.79 751.5,917.81 752.5,917.83 753.5,917.85 754.5,917.87 755.5,917.9 756.5,917.92 757.5,917.94 758.5,917.96 759.5,917.99 760.5,918.01 761.5,918.03 762.5,918.06 763.5,918.08 764.5,918.1 765.5,918.13 766.5,918.15 767.5,918.17 768.5,918.2 769.5,918.22 770.5,918.25 771.5,918.27 772.5,918.3 773.5,918.32 774.5,918.35 775.5,918.38 776.5,918.4 777.5,918.43 778.5,918.45 779.5,918.48 780.5,918.51 781.5,918.53 782.5,918.56 783.5,918.59 784.5,918.62 785.5,918.64 786.5,918.67 787.5,918.7 788.5,918.73 789.5,918.76 790.5,918.79 791.5,918.82 792.5,918.85 793.5,918.88 794.5,918.91 795.5,918.94 796.5,918.97 797.5,919 798.5,919.03 799.5,919.06 800.5,919.09 801.5,919.12 802.5,919.15 803.5,919.19 804.5,919.22 805.5,919.25 806.5,919.28 807.5,919.32 808.5,919.35 809.5,919.38 810.5,919.42 811.5,919.45 812.5,919.49 813.5,919.52 814.5,919.56 815.5,919.59 816.5,919.63 817.5,919.66 818.5,919.7 819.5,919.74 820.5,919.77 821.5,919.81 822.5,919.85 823.5,919.88 824.5,919.92 825.5,919.96 826.5,920 827.5,920.04 828.5,920.08 829.5,920.12 830.5,920.16 831.5,920.2 832.5,920.24 833.5,920.28 834.5,920.32 835.5,920.36 836.5,920.4 837.5,920.44 838.5,920.49 839.5,920.53 840.5,920.57 841.5,920.61 842.5,920.66 843.5,920.7 844.5,920.75 845.5,920.79 846.5,920.84 847.5,920.88 848.5,920.93 849.5,920.97 850.5,921.02 851.5,921.07 852.5,921.11 853.5,921.16 854.5,921.21 855.5,921.26 856.5,921.31 857.5,921.35 858.5,921.4 859.5,921.45 860.5,921.5 861.5,921.55 862.5,921.61 863.5,921.66 864.5,921.71 865.5,921.76 866.5,921.81 867.5,921.87 868.5,921.92 869.5,921.97 870.5,922.03 871.5,922.08 872.5,922.14 873.5,922.19 874.5,922.25 875.5,922.31 876.5,922.36 877.5,922.42 878.5,922.48 879.5,922.53 880.5,922.59 881.5,922.65 882.5,922.71 883.5,922.77 884.5,922.83 885.5,922.89 886.5,922.95 887.5,923.02 888.5,923.08 889.5,923.14 890.5,923.2 891.5,923.27 892.5,923.33 893.5,923.4 894.5,923.46 895.5,923.53 896.5,923.59 897.5,923.66 898.5,923.73 899.5,923.79 900.5,923.86 901.5,923.93 902.5,924 903.5,924.07 904.5,924.14 905.5,924.21 906.5,924.28 907.5,924.35 908.5,924.43 909.5,924.5 910.5,924.57 911.5,924.65 912.5,924.72 913.5,924.8 914.5,924.87 915.5,924.95 916.5,925.03 917.5,925.1 918.5,925.18 919.5,925.26 920.5,925.34 921.5,925.42 922.5,925.5 923.5,925.58 924.5,925.66 925.5,925.74 926.5,925.83 927.5,925.91 928.5,925.99 929.5,926.08 930.5,926.16 931.5,926.25 932.5,926.34 933.5,926.42 934.5,926.51 935.5,926.6 936.5,926.69 937.5,926.78 938.5,926.87 939.5,926.96 940.5,927.05 941.5,927.14 942.5,927.24 943.5,927.33 944.5,927.43 945.5,927.52 946.5,927.62 947.5,927.71 948.5,927.81 949.5,927.91 950.5,928.01 951.5,928.11 952.5,928.21 953.5,928.31 954.5,928.41 955.5,928.51 956.5,928.61 957.5,928.72 958.5,928.82 959.5,928.92 960.5,929.03 961.5,929.14 962.5,929.24 963.5,929.35 964.5,929.46 965.5,929.57 966.5,929.68 967.5,929.79 968.5,929.9 969.5,930.02 970.5,930.13 971.5,930.24 972.5,930.36 973.5,930.47 974.5,930.59 975.5,930.71 976.5,930.82 977.5,930.94 978.5,931.06 979.5,931.18 980.5,931.3 981.5,931.43 982.5,931.55 983.5,931.67 984.5,931.8 985.5,931.92 986.5,932.05 987.5,932.17 988.5,932.3 989.5,932.43 990.5,932.56 991.5,932.69 992.5,932.82 993.5,932.95 994.5,933.09 995.5,933.22 996.5,933.35 997.5,933.49 998.5,933.62 999.5,933.76 1000.5,933.9 1001.5,934.04 1002.5,934.18 1003.5,934.32 1004.5,934.46 1005.5,934.6 1006.5,934.74 1007.5,934.89 1008.5,935.03 1009.5,935.18 1010.5,935.32 1011.5,935.47 1012.5,935.62 1013.5,935.77 1014.5,935.92 1015.5,936.07 1016.5,936.22 1017.5,936.37 1018.5,936.53 1019.5,936.68 1020.5,936.84 1021.5,936.99 1022.5,937.15 1023.5,937.31 1024.5,937.47 1025.5,937.63 1026.5,937.79 1027.5,937.95 1028.5,938.11 1029.5,938.27 1030.5,938.44 1031.5,938.6 1032.5,938.77 1033.5,938.93 1034.5,939.1 1035.5,939.27 1036.5,939.44 1037.5,939.61 1038.5,939.78 1039.5,939.95 1040.5,940.12 1041.5,940.3 1042.5,940.47 1043.5,940.65 1044.5,940.82 1045.5,941 1046.5,941.18 1047.5,941.36 1048.5,941.54 1049.5,941.72 1050.5,941.9 1051.5,942.08 1052.5,942.26 1053.5,942.45 1054.5,942.63 1055.5,942.82 1056.5,943 1057.5,943.19 1058.5,943.38 1059.5,943.56 1060.5,943.75 1061.5,943.94 1062.5,944.13 1063.5,944.33 1064.5,944.52 1065.5,944.71 1066.5,944.91 1067.5,945.1 1068.5,945.3 1069.5,945.49 1070.5,945.69 1071.5,945.89 1072.5,946.08 1073.5,946.28 1074.5,946.48 1075.5,946.68 1076.5,946.89 1077.5,947.09 1078.5,947.29 1079.5,947.49 1080.5,947.7 1081.5,947.9 1082.5,948.11 1083.5,948.31 1084.5,948.52 1085.5,948.73 1086.5,948.93 1087.5,949.14 1088.5,949.35 1089.5,949.56 1090.5,949.77 1091.5,949.98 1092.5,950.19 1093.5,950.4 1094.5,950.62 1095.5,950.83 1096.5,951.04 1097.5,951.26 1098.5,951.47 1099.5,951.69 1100.5,951.9 1101.5,952.12 1102.5,952.33 1103.5,952.55 1104.5,952.77 1105.5,952.99 1106.5,953.21 1107.5,953.42 1108.5,953.64 1109.5,953.86 1110.5,954.08 1111.5,954.3 1112.5,954.52 1113.5,954.74 1114.5,954.96 1115.5,955.19 1116.5,955.41 1117.5,955.63 1118.5,955.85 1119.5,956.08 1120.5,956.3 1121.5,956.52 1122.5,956.75 1123.5,956.97 1124.5,957.19 1125.5,957.42 1126.5,957.64 1127.5,957.87 1128.5,958.09 1129.5,958.32 1130.5,958.54 1131.5,958.77 1132.5,958.99 1133.5,959.22 1134.5,959.44 1135.5,959.67 1136.5,959.9 1137.5,960.12 1138.5,960.35 1139.5,960.58 1140.5,960.8 1141.5,961.03 1142.5,961.25 1143.5,961.48 1144.5,961.71 1145.5,961.93 1146.5,962.16 1147.5,962.39 1148.5,962.61 1149.5,962.84 1150.5,963.06 1151.5,963.29 1152.5,963.52 1153.5,963.74 1154.5,963.97 1155.5,964.2 1156.5,964.42 1157.5,964.65 1158.5,964.87 1159.5,965.1 1160.5,965.32 1161.5,965.55 1162.5,965.77 1163.5,966 1164.5,966.22 1165.5,966.45 1166.5,966.67 1167.5,966.9 1168.5,967.12 1169.5,967.34 1170.5,967.57 1171.5,967.79 1172.5,968.01 1173.5,968.23 1174.5,968.46 1175.5,968.68 1176.5,968.9 1177.5,969.12 1178.5,969.34 1179.5,969.57 1180.5,969.79 1181.5,970.01 1182.5,970.23 1183.5,970.45 1184.5,970.67 1185.5,970.89 1186.5,971.11 1187.5,971.32 1188.5,971.54 1189.5,971.76 1190.5,971.98 1191.5,972.2 1192.5,972.41 1193.5,972.63 1194.5,972.85 1195.5,973.06 1196.5,973.28 1197.5,973.49 1198.5,973.71 1199.5,973.92 1200.5,974.14 1201.5,974.35 1202.5,974.56 1203.5,974.78 1204.5,974.99 1205.5,975.2 1206.5,975.41 1207.5,975.62 1208.5,975.84 1209.5,976.05 1210.5,976.26 1211.5,976.47 1212.5,976.68 1213.5,976.89 1214.5,977.09 1215.5,977.3 1216.5,977.51 1217.5,977.72 1218.5,977.93 1219.5,978.13 1220.5,978.34 1221.5,978.55 1222.5,978.75 1223.5,978.96 1224.5,979.16 1225.5,979.37 1226.5,979.57 1227.5,979.77 1228.5,979.98 1229.5,980.18 1230.5,980.38 1231.5,980.59 1232.5,980.79 1233.5,980.99 1234.5,981.19 1235.5,981.39 1236.5,981.59 1237.5,981.79 1238.5,981.99 1239.5,982.19 1240.5,982.39 1241.5,982.59 1242.5,982.79 1243.5,982.99 1244.5,983.19 1245.5,983.38 1246.5,983.58 1247.5,983.78 1248.5,983.97 1249.5,984.17 1250.5,984.37 1251.5,984.56 1252.5,984.76 1253.5,984.95 1254.5,985.15 1255.5,985.34 1256.5,985.54 1257.5,985.73 1258.5,985.92 1259.5,986.12 1260.5,986.31 1261.5,986.5 1262.5,986.7 1263.5,986.89 1264.5,987.08 1265.5,987.27 1266.5,987.46 1267.5,987.66 1268.5,987.85 1269.5,988.04 1270.5,988.23 1271.5,988.42 1272.5,988.61 1273.5,988.8 1274.5,988.99 1275.5,989.18 1276.5,989.37 1277.5,989.56 1278.5,989.75 1279.5,989.94 1280.5,990.13 1281.5,990.32 1282.5,990.51 1283.5,990.7 1284.5,990.88 1285.5,991.07 1286.5,991.26 1287.5,991.45 1288.5,991.64 1289.5,991.83 1290.5,992.01 1291.5,992.2 1292.5,992.39 1293.5,992.58 1294.5,992.77 1295.5,992.95 1296.5,993.14 1297.5,993.33 1298.5,993.52 1299.5,993.71 1300.5,993.89 1301.5,994.08 1302.5,994.27 1303.5,994.46 1304.5,994.64 1305.5,994.83 1306.5,995.02 1307.5,995.21 1308.5,995.4 1309.5,995.58 1310.5,995.77 1311.5,995.96 1312.5,996.15 1313.5,996.34 1314.5,996.52 1315.5,996.71 1316.5,996.9 1317.5,997.09 1318.5,997.28 1319.5,997.47 1320.5,997.66 1321.5,997.85 1322.5,998.04 1323.5,998.22 1324.5,998.41 1325.5,998.6 1326.5,998.79 1327.5,998.98 1328.5,999.17 1329.5,999.36 1330.5,999.55 1331.5,999.74 1332.5,999.94 1333.5,1000.13 1334.5,1000.32 1335.5,1000.51 1336.5,1000.7 1337.5,1000.89 1338.5,1001.08 1339.5,1001.28 1340.5,1001.47 1341.5,1001.66 1342.5,1001.86 1343.5,1002.05 1344.5,1002.24 1345.5,1002.44 1346.5,1002.63 1347.5,1002.83 1348.5,1003.02 1349.5,1003.21 1350.5,1003.41 1351.5,1003.61 1352.5,1003.8 1353.5,1004 1354.5,1004.19 1355.5,1004.39 1356.5,1004.59 1357.5,1004.79 1358.5,1004.98 1359.5,1005.18 1360.5,1005.38 1361.5,1005.58 1362.5,1005.78 1363.5,1005.98 1364.5,1006.18 1365.5,1006.38 1366.5,1006.58 1367.5,1006.78 1368.5,1006.98 1369.5,1007.18 1370.5,1007.38 1371.5,1007.58 1372.5,1007.79 1373.5,1007.99 1374.5,1008.19 1375.5,1008.4 1376.5,1008.6 1377.5,1008.81 1378.5,1009.01 1379.5,1009.22 1380.5,1009.42 1381.5,1009.63 1382.5,1009.83 1383.5,1010.04 1384.5,1010.25 1385.5,1010.45 1386.5,1010.66 1387.5,1010.87 1388.5,1011.08 1389.5,1011.29 1390.5,1011.5 1391.5,1011.71 1392.5,1011.92 1393.5,1012.13 1394.5,1012.34 1395.5,1012.55 1396.5,1012.76 1397.5,1012.97 1398.5,1013.19 1399.5,1013.4 1400.5,1013.61 1401.5,1013.83 1402.5,1014.04 1403.5,1014.25 1404.5,1014.47 1405.5,1014.68 1406.5,1014.9 1407.5,1015.12 1408.5,1015.33 1409.5,1015.55 1410.5,1015.77 1411.5,1015.98 1412.5,1016.2 1413.5,1016.42 1414.5,1016.64 1415.5,1016.85 1416.5,1017.07 1417.5,1017.29 1418.5,1017.51 1419.5,1017.73 1420.5,1017.95 1421.5,1018.17 1422.5,1018.39 1423.5,1018.61 1424.5,1018.84 1425.5,1019.06 1426.5,1019.28 1427.5,1019.5 1428.5,1019.72 1429.5,1019.95 1430.5,1020.17 1431.5,1020.39 1432.5,1020.62 1433.5,1020.84 1434.5,1021.06 1435.5,1021.29 1436.5,1021.51 1437.5,1021.73 1438.5,1021.96 1439.5,1022.18 1440.5,1022.41 1441.5,1022.63 1442.5,1022.86 1443.5,1023.08 1444.5,1023.31 1445.5,1023.54 1446.5,1023.76 1447.5,1023.99 1448.5,1024.21 1449.5,1024.44 1450.5,1024.67 1451.5,1024.89 1452.5,1025.12 1453.5,1025.34 1454.5,1025.57 1455.5,1025.8 1456.5,1026.02 1457.5,1026.25 1458.5,1026.48 1459.5,1026.7 1460.5,1026.93 1461.5,1027.15 1462.5,1027.38 1463.5,1027.61 1464.5,1027.83 1465.5,1028.06 1466.5,1028.29 1467.5,1028.51 1468.5,1028.74 1469.5,1028.96 1470.5,1029.19 1471.5,1029.41 1472.5,1029.64 1473.5,1029.86 1474.5,1030.09 1475.5,1030.31 1476.5,1030.54 1477.5,1030.76 1478.5,1030.99 1479.5,1031.21 1480.5,1031.44 1481.5,1031.66 1482.5,1031.88 1483.5,1032.1 1484.5,1032.33 1485.5,1032.55 1486.5,1032.77 1487.5,1032.99 1488.5,1033.22 1489.5,1033.44 1490.5,1033.66 1491.5,1033.88 1492.5,1034.1 1493.5,1034.32 1494.5,1034.54 1495.5,1034.75 1496.5,1034.97 1497.5,1035.19 1498.5,1035.41 1499.5,1035.63 1500.5,1035.84 1501.5,1036.06 1502.5,1036.27 1503.5,1036.49 1504.5,1036.7 1505.5,1036.92 1506.5,1037.13 1507.5,1037.35 1508.5,1037.56 1509.5,1037.77 1510.5,1037.98 1511.5,1038.19 1512.5,1038.4 1513.5,1038.61 1514.5,1038.82 1515.5,1039.03 1516.5,1039.24 1517.5,1039.45 1518.5,1039.65 1519.5,1039.86 1520.5,1040.07 1521.5,1040.27 1522.5,1040.47 1523.5,1040.68 1524.5,1040.88 1525.5,1041.08 1526.5,1041.28 1527.5,1041.49 1528.5,1041.69 1529.5,1041.89 1530.5,1042.08 1531.5,1042.28 1532.5,1042.48 1533.5,1042.68 1534.5,1042.87 1535.5,1043.07 1536.5,1043.26 1537.5,1043.45 1538.5,1043.65 1539.5,1043.84 1540.5,1044.03 1541.5,1044.22 1542.5,1044.41 1543.5,1044.6 1544.5,1044.79 1545.5,1044.97 1546.5,1045.16 1547.5,1045.35 1548.5,1045.53 1549.5,1045.72 1550.5,1045.9 1551.5,1046.08 1552.5,1046.26 1553.5,1046.44 1554.5,1046.62 1555.5,1046.8 1556.5,1046.98 1557.5,1047.16 1558.5,1047.33 1559.5,1047.51 1560.5,1047.68 1561.5,1047.86 1562.5,1048.03 1563.5,1048.2 1564.5,1048.37 1565.5,1048.55 1566.5,1048.71 1567.5,1048.88 1568.5,1049.05 1569.5,1049.22 1570.5,1049.38 1571.5,1049.55 1572.5,1049.71 1573.5,1049.88 1574.5,1050.04 1575.5,1050.2 1576.5,1050.36 1577.5,1050.52 1578.5,1050.68 1579.5,1050.84 1580.5,1051 1581.5,1051.15 1582.5,1051.31 1583.5,1051.46 1584.5,1051.62 1585.5,1051.77 1586.5,1051.92 1587.5,1052.07 1588.5,1052.22 1589.5,1052.37 1590.5,1052.52 1591.5,1052.67 1592.5,1052.82 1593.5,1052.96 1594.5,1053.11 1595.5,1053.25 1596.5,1053.4 1597.5,1053.54 1598.5,1053.68 1599.5,1053.82 1600.5,1053.96 1601.5,1054.1 1602.5,1054.24 1603.5,1054.38 1604.5,1054.51 1605.5,1054.65 1606.5,1054.78 1607.5,1054.92 1608.5,1055.05 1609.5,1055.18 1610.5,1055.31 1611.5,1055.44 1612.5,1055.57 1613.5,1055.7 1614.5,1055.83 1615.5,1055.96 1616.5,1056.08 1617.5,1056.21 1618.5,1056.33 1619.5,1056.46 1620.5,1056.58 1621.5,1056.7 1622.5,1056.82 1623.5,1056.95 1624.5,1057.07 1625.5,1057.18 1626.5,1057.3 1627.5,1057.42 1628.5,1057.54 1629.5,1057.65 1630.5,1057.77 1631.5,1057.88 1632.5,1058 1633.5,1058.11 1634.5,1058.22 1635.5,1058.33 1636.5,1058.44 1637.5,1058.55 1638.5,1058.66 1639.5,1058.77 1640.5,1058.88 1641.5,1058.98 1642.5,1059.09 1643.5,1059.2 1644.5,1059.3 1645.5,1059.4 1646.5,1059.51 1647.5,1059.61 1648.5,1059.71 1649.5,1059.81 1650.5,1059.91 1651.5,1060.01 1652.5,1060.11 1653.5,1060.21 1654.5,1060.31 1655.5,1060.4 1656.5,1060.5 1657.5,1060.6 1658.5,1060.69 1659.5,1060.78 1660.5,1060.88 1661.5,1060.97 1662.5,1061.06 1663.5,1061.15 1664.5,1061.24 1665.5,1061.33 1666.5,1061.42 1667.5,1061.51 1668.5,1061.6 1669.5,1061.69 1670.5,1061.77 1671.5,1061.86 1672.5,1061.95 1673.5,1062.03 1674.5,1062.12 1675.5,1062.2 1676.5,1062.28 1677.5,1062.36 1678.5,1062.45 1679.5,1062.53 1680.5,1062.61 1681.5,1062.69 1682.5,1062.77 1683.5,1062.85 1684.5,1062.93 1685.5,1063 1686.5,1063.08 1687.5,1063.16 1688.5,1063.23 1689.5,1063.31 1690.5,1063.38 1691.5,1063.46 1692.5,1063.53 1693.5,1063.6 1694.5,1063.68 1695.5,1063.75 1696.5,1063.82 1697.5,1063.89 1698.5,1063.96 1699.5,1064.03 1700.5,1064.1 1701.5,1064.17 1702.5,1064.24 1703.5,1064.31 1704.5,1064.37 1705.5,1064.44 1706.5,1064.51 1706.5,1087.05 1705.5,1087.05 1704.5,1087.05 1703.5,1087.05 1702.5,1087.05 1701.5,1087.05 1700.5,1087.05 1699.5,1087.05 1698.5,1087.05 1697.5,1087.05 1696.5,1087.05 1695.5,1087.05 1694.5,1087.05 1693.5,1087.05 1692.5,1087.05 1691.5,1087.05 1690.5,1087.05 1689.5,1087.01 1688.5,1086.94 1687.5,1086.87 1686.5,1086.81 1685.5,1086.74 1684.5,1086.67 1683.5,1086.6 1682.5,1086.53 1681.5,1086.46 1680.5,1086.39 1679.5,1086.32 1678.5,1086.25 1677.5,1086.18 1676.5,1086.1 1675.5,1086.03 1674.5,1085.96 1673.5,1085.88 1672.5,1085.81 1671.5,1085.73 1670.5,1085.66 1669.5,1085.58 1668.5,1085.5 1667.5,1085.43 1666.5,1085.35 1665.5,1085.27 1664.5,1085.19 1663.5,1085.11 1662.5,1085.03 1661.5,1084.95 1660.5,1084.86 1659.5,1084.78 1658.5,1084.7 1657.5,1084.62 1656.5,1084.53 1655.5,1084.45 1654.5,1084.36 1653.5,1084.27 1652.5,1084.19 1651.5,1084.1 1650.5,1084.01 1649.5,1083.92 1648.5,1083.83 1647.5,1083.74 1646.5,1083.65 1645.5,1083.56 1644.5,1083.47 1643.5,1083.38 1642.5,1083.28 1641.5,1083.19 1640.5,1083.1 1639.5,1083 1638.5,1082.9 1637.5,1082.81 1636.5,1082.71 1635.5,1082.61 1634.5,1082.51 1633.5,1082.41 1632.5,1082.31 1631.5,1082.21 1630.5,1082.11 1629.5,1082.01 1628.5,1081.9 1627.5,1081.8 1626.5,1081.7 1625.5,1081.59 1624.5,1081.48 1623.5,1081.38 1622.5,1081.27 1621.5,1081.16 1620.5,1081.05 1619.5,1080.94 1618.5,1080.83 1617.5,1080.72 1616.5,1080.61 1615.5,1080.5 1614.5,1080.38 1613.5,1080.27 1612.5,1080.15 1611.5,1080.04 1610.5,1079.92 1609.5,1079.8 1608.5,1079.68 1607.5,1079.57 1606.5,1079.45 1605.5,1079.32 1604.5,1079.2 1603.5,1079.08 1602.5,1078.96 1601.5,1078.83 1600.5,1078.71 1599.5,1078.58 1598.5,1078.46 1597.5,1078.33 1596.5,1078.2 1595.5,1078.07 1594.5,1077.94 1593.5,1077.81 1592.5,1077.68 1591.5,1077.55 1590.5,1077.42 1589.5,1077.28 1588.5,1077.15 1587.5,1077.01 1586.5,1076.88 1585.5,1076.74 1584.5,1076.6 1583.5,1076.46 1582.5,1076.32 1581.5,1076.18 1580.5,1076.04 1579.5,1075.9 1578.5,1075.75 1577.5,1075.61 1576.5,1075.46 1575.5,1075.32 1574.5,1075.17 1573.5,1075.02 1572.5,1074.87 1571.5,1074.72 1570.5,1074.57 1569.5,1074.42 1568.5,1074.27 1567.5,1074.12 1566.5,1073.96 1565.5,1073.81 1564.5,1073.65 1563.5,1073.5 1562.5,1073.34 1561.5,1073.18 1560.5,1073.02 1559.5,1072.86 1558.5,1072.7 1557.5,1072.54 1556.5,1072.38 1555.5,1072.21 1554.5,1072.05 1553.5,1071.88 1552.5,1071.72 1551.5,1071.55 1550.5,1071.38 1549.5,1071.21 1548.5,1071.05 1547.5,1070.87 1546.5,1070.7 1545.5,1070.53 1544.5,1070.36 1543.5,1070.18 1542.5,1070.01 1541.5,1069.83 1540.5,1069.66 1539.5,1069.48 1538.5,1069.3 1537.5,1069.12 1536.5,1068.94 1535.5,1068.76 1534.5,1068.58 1533.5,1068.4 1532.5,1068.22 1531.5,1068.03 1530.5,1067.85 1529.5,1067.66 1528.5,1067.47 1527.5,1067.29 1526.5,1067.1 1525.5,1066.91 1524.5,1066.72 1523.5,1066.53 1522.5,1066.34 1521.5,1066.15 1520.5,1065.95 1519.5,1065.76 1518.5,1065.57 1517.5,1065.37 1516.5,1065.18 1515.5,1064.98 1514.5,1064.78 1513.5,1064.58 1512.5,1064.39 1511.5,1064.19 1510.5,1063.99 1509.5,1063.78 1508.5,1063.58 1507.5,1063.38 1506.5,1063.18 1505.5,1062.97 1504.5,1062.77 1503.5,1062.57 1502.5,1062.36 1501.5,1062.15 1500.5,1061.95 1499.5,1061.74 1498.5,1061.53 1497.5,1061.32 1496.5,1061.11 1495.5,1060.9 1494.5,1060.69 1493.5,1060.48 1492.5,1060.27 1491.5,1060.06 1490.5,1059.85 1489.5,1059.63 1488.5,1059.42 1487.5,1059.2 1486.5,1058.99 1485.5,1058.77 1484.5,1058.56 1483.5,1058.34 1482.5,1058.13 1481.5,1057.91 1480.5,1057.69 1479.5,1057.47 1478.5,1057.25 1477.5,1057.04 1476.5,1056.82 1475.5,1056.6 1474.5,1056.38 1473.5,1056.16 1472.5,1055.94 1471.5,1055.72 1470.5,1055.49 1469.5,1055.27 1468.5,1055.05 1467.5,1054.83 1466.5,1054.6 1465.5,1054.38 1464.5,1054.16 1463.5,1053.94 1462.5,1053.71 1461.5,1053.49 1460.5,1053.26 1459.5,1053.04 1458.5,1052.81 1457.5,1052.59 1456.5,1052.36 1455.5,1052.14 1454.5,1051.91 1453.5,1051.69 1452.5,1051.46 1451.5,1051.24 1450.5,1051.01 1449.5,1050.79 1448.5,1050.56 1447.5,1050.33 1446.5,1050.11 1445.5,1049.88 1444.5,1049.65 1443.5,1049.43 1442.5,1049.2 1441.5,1048.98 1440.5,1048.75 1439.5,1048.52 1438.5,1048.3 1437.5,1048.07 1436.5,1047.84 1435.5,1047.62 1434.5,1047.39 1433.5,1047.17 1432.5,1046.94 1431.5,1046.71 1430.5,1046.49 1429.5,1046.26 1428.5,1046.04 1427.5,1045.81 1426.5,1045.58 1425.5,1045.36 1424.5,1045.13 1423.5,1044.91 1422.5,1044.68 1421.5,1044.46 1420.5,1044.23 1419.5,1044.01 1418.5,1043.79 1417.5,1043.56 1416.5,1043.34 1415.5,1043.12 1414.5,1042.89 1413.5,1042.67 1412.5,1042.45 1411.5,1042.22 1410.5,1042 1409.5,1041.78 1408.5,1041.56 1407.5,1041.34 1406.5,1041.11 1405.5,1040.89 1404.5,1040.67 1403.5,1040.45 1402.5,1040.23 1401.5,1040.01 1400.5,1039.79 1399.5,1039.57 1398.5,1039.35 1397.5,1039.14 1396.5,1038.92 1395.5,1038.7 1394.5,1038.48 1393.5,1038.27 1392.5,1038.05 1391.5,1037.83 1390.5,1037.62 1389.5,1037.4 1388.5,1037.18 1387.5,1036.97 1386.5,1036.75 1385.5,1036.54 1384.5,1036.33 1383.5,1036.11 1382.5,1035.9 1381.5,1035.69 1380.5,1035.47 1379.5,1035.26 1378.5,1035.05 1377.5,1034.84 1376.5,1034.63 1375.5,1034.42 1374.5,1034.21 1373.5,1034 1372.5,1033.79 1371.5,1033.58 1370.5,1033.37 1369.5,1033.16 1368.5,1032.95 1367.5,1032.75 1366.5,1032.54 1365.5,1032.33 1364.5,1032.13 1363.5,1031.92 1362.5,1031.72 1361.5,1031.51 1360.5,1031.31 1359.5,1031.1 1358.5,1030.9 1357.5,1030.69 1356.5,1030.49 1355.5,1030.29 1354.5,1030.08 1353.5,1029.88 1352.5,1029.68 1351.5,1029.48 1350.5,1029.28 1349.5,1029.08 1348.5,1028.88 1347.5,1028.68 1346.5,1028.48 1345.5,1028.28 1344.5,1028.08 1343.5,1027.88 1342.5,1027.68 1341.5,1027.48 1340.5,1027.29 1339.5,1027.09 1338.5,1026.89 1337.5,1026.69 1336.5,1026.5 1335.5,1026.3 1334.5,1026.11 1333.5,1025.91 1332.5,1025.71 1331.5,1025.52 1330.5,1025.33 1329.5,1025.13 1328.5,1024.94 1327.5,1024.74 1326.5,1024.55 1325.5,1024.36 1324.5,1024.16 1323.5,1023.97 1322.5,1023.78 1321.5,1023.58 1320.5,1023.39 1319.5,1023.2 1318.5,1023.01 1317.5,1022.82 1316.5,1022.63 1315.5,1022.44 1314.5,1022.24 1313.5,1022.05 1312.5,1021.86 1311.5,1021.67 1310.5,1021.48 1309.5,1021.29 1308.5,1021.1 1307.5,1020.91 1306.5,1020.72 1305.5,1020.54 1304.5,1020.35 1303.5,1020.16 1302.5,1019.97 1301.5,1019.78 1300.5,1019.59 1299.5,1019.4 1298.5,1019.21 1297.5,1019.02 1296.5,1018.84 1295.5,1018.65 1294.5,1018.46 1293.5,1018.27 1292.5,1018.08 1291.5,1017.9 1290.5,1017.71 1289.5,1017.52 1288.5,1017.33 1287.5,1017.14 1286.5,1016.96 1285.5,1016.77 1284.5,1016.58 1283.5,1016.39 1282.5,1016.21 1281.5,1016.02 1280.5,1015.83 1279.5,1015.64 1278.5,1015.45 1277.5,1015.27 1276.5,1015.08 1275.5,1014.89 1274.5,1014.7 1273.5,1014.51 1272.5,1014.33 1271.5,1014.14 1270.5,1013.95 1269.5,1013.76 1268.5,1013.57 1267.5,1013.38 1266.5,1013.2 1265.5,1013.01 1264.5,1012.82 1263.5,1012.63 1262.5,1012.44 1261.5,1012.25 1260.5,1012.06 1259.5,1011.87 1258.5,1011.68 1257.5,1011.49 1256.5,1011.3 1255.5,1011.11 1254.5,1010.92 1253.5,1010.73 1252.5,1010.54 1251.5,1010.35 1250.5,1010.16 1249.5,1009.96 1248.5,1009.77 1247.5,1009.58 1246.5,1009.39 1245.5,1009.2 1244.5,1009 1243.5,1008.81 1242.5,1008.62 1241.5,1008.42 1240.5,1008.23 1239.5,1008.04 1238.5,1007.84 1237.5,1007.65 1236.5,1007.45 1235.5,1007.26 1234.5,1007.06 1233.5,1006.87 1232.5,1006.67 1231.5,1006.47 1230.5,1006.28 1229.5,1006.08 1228.5,1005.88 1227.5,1005.69 1226.5,1005.49 1225.5,1005.29 1224.5,1005.09 1223.5,1004.89 1222.5,1004.69 1221.5,1004.49 1220.5,1004.29 1219.5,1004.09 1218.5,1003.89 1217.5,1003.69 1216.5,1003.49 1215.5,1003.29 1214.5,1003.09 1213.5,1002.88 1212.5,1002.68 1211.5,1002.48 1210.5,1002.27 1209.5,1002.07 1208.5,1001.87 1207.5,1001.66 1206.5,1001.46 1205.5,1001.25 1204.5,1001.05 1203.5,1000.84 1202.5,1000.63 1201.5,1000.43 1200.5,1000.22 1199.5,1000.01 1198.5,999.8 1197.5,999.59 1196.5,999.39 1195.5,999.18 1194.5,998.97 1193.5,998.76 1192.5,998.55 1191.5,998.34 1190.5,998.12 1189.5,997.91 1188.5,997.7 1187.5,997.49 1186.5,997.28 1185.5,997.06 1184.5,996.85 1183.5,996.64 1182.5,996.42 1181.5,996.21 1180.5,995.99 1179.5,995.78 1178.5,995.56 1177.5,995.35 1176.5,995.13 1175.5,994.91 1174.5,994.7 1173.5,994.48 1172.5,994.26 1171.5,994.04 1170.5,993.82 1169.5,993.61 1168.5,993.39 1167.5,993.17 1166.5,992.95 1165.5,992.73 1164.5,992.51 1163.5,992.29 1162.5,992.07 1161.5,991.84 1160.5,991.62 1159.5,991.4 1158.5,991.18 1157.5,990.96 1156.5,990.73 1155.5,990.51 1154.5,990.29 1153.5,990.07 1152.5,989.84 1151.5,989.62 1150.5,989.4 1149.5,989.17 1148.5,988.95 1147.5,988.72 1146.5,988.5 1145.5,988.27 1144.5,988.05 1143.5,987.82 1142.5,987.6 1141.5,987.37 1140.5,987.15 1139.5,986.92 1138.5,986.7 1137.5,986.47 1136.5,986.24 1135.5,986.02 1134.5,985.79 1133.5,985.56 1132.5,985.34 1131.5,985.11 1130.5,984.89 1129.5,984.66 1128.5,984.43 1127.5,984.21 1126.5,983.98 1125.5,983.75 1124.5,983.53 1123.5,983.3 1122.5,983.08 1121.5,982.85 1120.5,982.62 1119.5,982.4 1118.5,982.17 1117.5,981.94 1116.5,981.72 1115.5,981.49 1114.5,981.27 1113.5,981.04 1112.5,980.82 1111.5,980.59 1110.5,980.37 1109.5,980.14 1108.5,979.92 1107.5,979.69 1106.5,979.47 1105.5,979.25 1104.5,979.02 1103.5,978.8 1102.5,978.58 1101.5,978.35 1100.5,978.13 1099.5,977.91 1098.5,977.69 1097.5,977.46 1096.5,977.24 1095.5,977.02 1094.5,976.8 1093.5,976.58 1092.5,976.36 1091.5,976.14 1090.5,975.92 1089.5,975.71 1088.5,975.49 1087.5,975.27 1086.5,975.05 1085.5,974.83 1084.5,974.62 1083.5,974.4 1082.5,974.19 1081.5,973.97 1080.5,973.76 1079.5,973.54 1078.5,973.33 1077.5,973.12 1076.5,972.9 1075.5,972.69 1074.5,972.48 1073.5,972.27 1072.5,972.06 1071.5,971.85 1070.5,971.64 1069.5,971.43 1068.5,971.23 1067.5,971.02 1066.5,970.81 1065.5,970.61 1064.5,970.4 1063.5,970.2 1062.5,969.99 1061.5,969.79 1060.5,969.59 1059.5,969.39 1058.5,969.18 1057.5,968.98 1056.5,968.78 1055.5,968.58 1054.5,968.39 1053.5,968.19 1052.5,967.99 1051.5,967.8 1050.5,967.6 1049.5,967.41 1048.5,967.21 1047.5,967.02 1046.5,966.83 1045.5,966.63 1044.5,966.44 1043.5,966.25 1042.5,966.06 1041.5,965.88 1040.5,965.69 1039.5,965.5 1038.5,965.32 1037.5,965.13 1036.5,964.95 1035.5,964.76 1034.5,964.58 1033.5,964.4 1032.5,964.22 1031.5,964.04 1030.5,963.86 1029.5,963.68 1028.5,963.5 1027.5,963.32 1026.5,963.15 1025.5,962.97 1024.5,962.8 1023.5,962.62 1022.5,962.45 1021.5,962.28 1020.5,962.11 1019.5,961.94 1018.5,961.77 1017.5,961.6 1016.5,961.43 1015.5,961.27 1014.5,961.1 1013.5,960.94 1012.5,960.77 1011.5,960.61 1010.5,960.45 1009.5,960.29 1008.5,960.13 1007.5,959.97 1006.5,959.81 1005.5,959.65 1004.5,959.49 1003.5,959.34 1002.5,959.18 1001.5,959.03 1000.5,958.87 999.5,958.72 998.5,958.57 997.5,958.42 996.5,958.27 995.5,958.12 994.5,957.97 993.5,957.82 992.5,957.68 991.5,957.53 990.5,957.39 989.5,957.24 988.5,957.1 987.5,956.96 986.5,956.82 985.5,956.68 984.5,956.54 983.5,956.4 982.5,956.26 981.5,956.12 980.5,955.99 979.5,955.85 978.5,955.72 977.5,955.59 976.5,955.45 975.5,955.32 974.5,955.19 973.5,955.06 972.5,954.93 971.5,954.8 970.5,954.67 969.5,954.55 968.5,954.42 967.5,954.3 966.5,954.17 965.5,954.05 964.5,953.93 963.5,953.8 962.5,953.68 961.5,953.56 960.5,953.44 959.5,953.32 958.5,953.21 957.5,953.09 956.5,952.97 955.5,952.86 954.5,952.74 953.5,952.63 952.5,952.52 951.5,952.4 950.5,952.29 949.5,952.18 948.5,952.07 947.5,951.96 946.5,951.85 945.5,951.74 944.5,951.64 943.5,951.53 942.5,951.42 941.5,951.32 940.5,951.22 939.5,951.11 938.5,951.01 937.5,950.91 936.5,950.81 935.5,950.71 934.5,950.61 933.5,950.51 932.5,950.41 931.5,950.31 930.5,950.21 929.5,950.12 928.5,950.02 927.5,949.93 926.5,949.83 925.5,949.74 924.5,949.64 923.5,949.55 922.5,949.46 921.5,949.37 920.5,949.28 919.5,949.19 918.5,949.1 917.5,949.01 916.5,948.92 915.5,948.84 914.5,948.75 913.5,948.66 912.5,948.58 911.5,948.49 910.5,948.41 909.5,948.33 908.5,948.24 907.5,948.16 906.5,948.08 905.5,948 904.5,947.92 903.5,947.84 902.5,947.76 901.5,947.68 900.5,947.6 899.5,947.53 898.5,947.45 897.5,947.37 896.5,947.3 895.5,947.22 894.5,947.15 893.5,947.07 892.5,947 891.5,946.93 890.5,946.85 889.5,946.78 888.5,946.71 887.5,946.64 886.5,946.57 885.5,946.5 884.5,946.43 883.5,946.36 882.5,946.29 881.5,946.23 880.5,946.16 879.5,946.09 878.5,946.03 877.5,945.96 876.5,945.9 875.5,945.83 874.5,945.77 873.5,945.7 872.5,945.64 871.5,945.58 870.5,945.52 869.5,945.45 868.5,945.39 867.5,945.33 866.5,945.27 865.5,945.21 864.5,945.15 863.5,945.09 862.5,945.03 861.5,944.98 860.5,944.92 859.5,944.86 858.5,944.81 857.5,944.75 856.5,944.69 855.5,944.64 854.5,944.58 853.5,944.53 852.5,944.47 851.5,944.42 850.5,944.37 849.5,944.31 848.5,944.26 847.5,944.21 846.5,944.16 845.5,944.11 844.5,944.05 843.5,944 842.5,943.95 841.5,943.9 840.5,943.85 839.5,943.81 838.5,943.76 837.5,943.71 836.5,943.66 835.5,943.61 834.5,943.57 833.5,943.52 832.5,943.47 831.5,943.43 830.5,943.38 829.5,943.34 828.5,943.29 827.5,943.25 826.5,943.2 825.5,943.16 824.5,943.11 823.5,943.07 822.5,943.03 821.5,942.99 820.5,942.94 819.5,942.9 818.5,942.86 817.5,942.82 816.5,942.78 815.5,942.74 814.5,942.7 813.5,942.66 812.5,942.62 811.5,942.58 810.5,942.54 809.5,942.5 808.5,942.46 807.5,942.42 806.5,942.38 805.5,942.35 804.5,942.31 803.5,942.27 802.5,942.24 801.5,942.2 800.5,942.16 799.5,942.13 798.5,942.09 797.5,942.06 796.5,942.02 795.5,941.99 794.5,941.95 793.5,941.92 792.5,941.88 791.5,941.85 790.5,941.82 789.5,941.78 788.5,941.75 787.5,941.72 786.5,941.69 785.5,941.65 784.5,941.62 783.5,941.59 782.5,941.56 781.5,941.53 780.5,941.5 779.5,941.47 778.5,941.44 777.5,941.41 776.5,941.38 775.5,941.35 774.5,941.32 773.5,941.29 772.5,941.26 771.5,941.23 770.5,941.2 769.5,941.17 768.5,941.14 767.5,941.12 766.5,941.09 765.5,941.06 764.5,941.03 763.5,941.01 762.5,940.98 761.5,940.95 760.5,940.93 759.5,940.9 758.5,940.88 757.5,940.85 756.5,940.82 755.5,940.8 754.5,940.77 753.5,940.75 752.5,940.72 751.5,940.7 750.5,940.67 749.5,940.65 748.5,940.63 747.5,940.6 746.5,940.58 745.5,940.56 744.5,940.53 743.5,940.51 742.5,940.49 741.5,940.46 740.5,940.44 739.5,940.42 738.5,940.4 737.5,940.37 736.5,940.35 735.5,940.33 734.5,940.31 733.5,940.29 732.5,940.27 731.5,940.25 730.5,940.23 729.5,940.21 728.5,940.18 727.5,940.16 726.5,940.14 725.5,940.12 724.5,940.1 723.5,940.08 722.5,940.07 721.5,940.05 720.5,940.03 719.5,940.01 718.5,939.99 717.5,939.97 716.5,939.95 715.5,939.93 714.5,939.91 713.5,939.9 712.5,939.88 711.5,939.86 710.5,939.84 709.5,939.82 708.5,939.81 707.5,939.79 706.5,939.77 705.5,939.76 704.5,939.74 703.5,939.72 702.5,939.71 701.5,939.69 700.5,939.67 699.5,939.66 698.5,939.64 697.5,939.62 696.5,939.61 695.5,939.59 694.5,939.58 693.5,939.56 692.5,939.55 691.5,939.53 690.5,939.52 689.5,939.5 688.5,939.49 687.5,939.47 686.5,939.46 685.5,939.44 684.5,939.43 683.5,939.41 682.5,939.4 681.5,939.38" fill="#ff00ff" shape-rendering="crispEdges"/>
<path fill="#000" fill-rule="evenodd" d="M1393,44.8H1728a2,2 0 0 1 2,2V287.9a2,2 0 0 1 -2,2H1393a2,2 0 0 1 -2,-2V46.8a2,2 0 0 1 2,-2zM1399.9,53V282.1H1722.1V53z"/>
<line x1="1419" y1="97" x2="1466" y2="97" stroke="#0000ff" stroke-width="12" stroke-linecap="round"/>
<path d="M1419,168h9.5M1451,168h9" stroke="#009600" stroke-width="12.5" stroke-linecap="round" fill="none"/>
<rect x="1419" y="215.2" width="47.6" height="47.8" fill="none" stroke="#ff00ff" stroke-width="8" stroke-linejoin="round"/>
<text transform="scale(1,1.04)" fill="#0000ff"><tspan x="1521.6" y="111.83" font-size="66.67" class="i">G</tspan><tspan x="1568" y="121.63" font-size="43.5" class="i">ov</tspan> <tspan x="1624.44" y="111.83" font-size="62" textLength="24.53" lengthAdjust="spacingAndGlyphs">(</tspan><tspan x="1647" y="111.83" font-size="64.1" class="i" textLength="27.99" lengthAdjust="spacingAndGlyphs">s</tspan><tspan x="1671.62" y="111.83" font-size="62" textLength="24.53" lengthAdjust="spacingAndGlyphs">)</tspan></text>
<text transform="scale(1,1.04)" fill="#009600"><tspan x="1512" y="180.38" font-size="66.67" class="i">G</tspan><tspan x="1557.3" y="190.19" font-size="43.5" class="i">ov</tspan><tspan x="1598.4" y="189.42" font-size="43.5" class="r">1</tspan> <tspan x="1635.44" y="180.38" font-size="62" textLength="24.53" lengthAdjust="spacingAndGlyphs">(</tspan><tspan x="1658.2" y="180.38" font-size="64.1" class="i" textLength="27.99" lengthAdjust="spacingAndGlyphs">s</tspan><tspan x="1682.62" y="180.38" font-size="62" textLength="24.53" lengthAdjust="spacingAndGlyphs">)</tspan></text>
<text transform="scale(1,1.04)" fill="#ff00ff"><tspan x="1512" y="248.75" font-size="66.67" class="i">G</tspan><tspan x="1557.3" y="258.56" font-size="43.5" class="i">ov</tspan><tspan x="1597.3" y="257.79" font-size="43.5" class="r">2</tspan> <tspan x="1635.44" y="248.75" font-size="62" textLength="24.53" lengthAdjust="spacingAndGlyphs">(</tspan><tspan x="1658.2" y="248.75" font-size="64.1" class="i" textLength="27.99" lengthAdjust="spacingAndGlyphs">s</tspan><tspan x="1682.62" y="248.75" font-size="62" textLength="24.53" lengthAdjust="spacingAndGlyphs">)</tspan></text>
<text fill="#009600"><tspan x="315.2" y="319.7" font-size="53.33">Without</tspan> <tspan x="521" y="319.7" font-size="53.33">parasitical</tspan> <tspan x="772.2" y="319.7" font-size="53.33">element</tspan> <tspan x="962.3" y="319.7" font-size="53.33">model</tspan></text>
<text fill="#009600"><tspan x="314.8" y="818.7" font-size="53.33">Without</tspan> <tspan x="520.3" y="818.7" font-size="53.33">parasitical</tspan> <tspan x="771.2" y="818.7" font-size="53.33">element</tspan> <tspan x="961.65" y="818.7" font-size="53.33">model</tspan></text>
<text transform="scale(1,0.94)" fill="#ff00ff"><tspan x="1130.1" y="596.91" font-size="66.67">Using</tspan> <tspan x="1310.8" y="596.91" font-size="66.67">RC</tspan> <tspan x="1423.85" y="596.91" font-size="66.67">model</tspan></text>
<text transform="scale(1,0.94)" fill="#ff00ff"><tspan x="822.75" y="1127.98" font-size="66.67">Using</tspan> <tspan x="1003.9" y="1127.98" font-size="66.67">RC</tspan> <tspan x="1116.65" y="1127.98" font-size="66.67">model</tspan></text>
<text transform="scale(1,1.04)" fill="#000"><tspan x="180.35" y="63.85" font-size="53.33">50</tspan></text>
<text transform="scale(1,1.04)" fill="#000"><tspan x="180.85" y="118.17" font-size="53.33">40</tspan></text>
<text transform="scale(1,1.04)" fill="#000"><tspan x="180.35" y="168.56" font-size="53.33">30</tspan></text>
<text transform="scale(1,1.04)" fill="#000"><tspan x="179.8" y="221.92" font-size="53.33">20</tspan></text>
<text transform="scale(1,1.04)" fill="#000"><tspan x="179.55" y="273.17" font-size="53.33">10</tspan></text>
<text transform="scale(1,1.04)" fill="#000"><tspan x="193.05" y="320.77" font-size="53.33">0</tspan></text>
<text transform="scale(1,1.04)" fill="#000"><tspan x="161.32" y="372.21" font-size="53.33" class="r" textLength="34.89" lengthAdjust="spacingAndGlyphs">−</tspan><tspan x="194.75" y="372.21" font-size="53.33">10</tspan></text>
<text transform="scale(1,1.04)" fill="#000"><tspan x="161.32" y="426.92" font-size="53.33" class="r" textLength="34.89" lengthAdjust="spacingAndGlyphs">−</tspan><tspan x="195.1" y="426.92" font-size="53.33">20</tspan></text>
<text transform="scale(1,1.04)" fill="#000"><tspan x="161.32" y="480.29" font-size="53.33" class="r" textLength="34.89" lengthAdjust="spacingAndGlyphs">−</tspan><tspan x="195.35" y="480.29" font-size="53.33">30</tspan></text>
<text transform="scale(1,1.04)" fill="#000"><tspan x="161.32" y="529.71" font-size="53.33" class="r" textLength="34.89" lengthAdjust="spacingAndGlyphs">−</tspan><tspan x="195.9" y="529.71" font-size="53.33">40</tspan></text>
<text transform="scale(1,1.04)" fill="#000"><tspan x="165.8" y="605.29" font-size="53.33">360</tspan></text>
<text transform="scale(1,1.04)" fill="#000"><tspan x="165.8" y="678.56" font-size="53.33">270</tspan></text>
<text transform="scale(1,1.04)" fill="#000"><tspan x="166.3" y="753.46" font-size="53.33">180</tspan></text>
<text transform="scale(1,1.04)" fill="#000"><tspan x="180.7" y="828.17" font-size="53.33">90</tspan></text>
<text transform="scale(1,1.04)" fill="#000"><tspan x="192.9" y="902.31" font-size="53.33">0</tspan></text>
<text transform="scale(1,1.04)" fill="#000"><tspan x="161.52" y="975.96" font-size="53.33" class="r" textLength="34.89" lengthAdjust="spacingAndGlyphs">−</tspan><tspan x="196.1" y="975.96" font-size="53.33">90</tspan></text>
<text transform="scale(1,1.04)" fill="#000"><tspan x="148.32" y="1048.94" font-size="53.33" class="r" textLength="34.89" lengthAdjust="spacingAndGlyphs">−</tspan><tspan x="181.55" y="1048.94" font-size="53.33">180</tspan></text>
<text transform="scale(1,1.04)" fill="#000"><tspan x="264.95" y="1089.04" font-size="53.33">1</tspan></text>
<text transform="scale(1,1.04)" fill="#000"><tspan x="556.23" y="1089.04" font-size="53.33" textLength="56.96" lengthAdjust="spacingAndGlyphs">10</tspan></text>
<text transform="scale(1,1.04)" fill="#000"><tspan x="851.15" y="1089.04" font-size="53.33">100</tspan></text>
<text transform="scale(1,1.04)" fill="#000"><tspan x="1137.65" y="1089.04" font-size="53.33">1</tspan> <tspan x="1179.8" y="1089.04" font-size="53.33">k</tspan></text>
<text transform="scale(1,1.04)" fill="#000"><tspan x="1426.83" y="1089.04" font-size="53.33" textLength="56.96" lengthAdjust="spacingAndGlyphs">10</tspan> <tspan x="1495.05" y="1089.04" font-size="53.33">k</tspan></text>
<text transform="scale(1,1.04)" fill="#000"><tspan x="1715.15" y="1089.04" font-size="53.33">100</tspan> <tspan x="1809.75" y="1089.04" font-size="53.33">k</tspan></text>
<text fill="#000"><tspan x="821.85" y="1198.9" font-size="53.33">Frequency (Hz)</tspan></text>
<text transform="translate(80.7,491.9) rotate(-90) scale(1,1.0)" fill="#000"><tspan x="-0.5" y="0" font-size="53.33">Magnitude (dB)</tspan></text>
<text transform="translate(80.2,1020.9) rotate(-90) scale(1,1.0)" fill="#000"><tspan x="0" y="0" font-size="53.33">Phase (Degree)</tspan></text>
</svg></body></html>
